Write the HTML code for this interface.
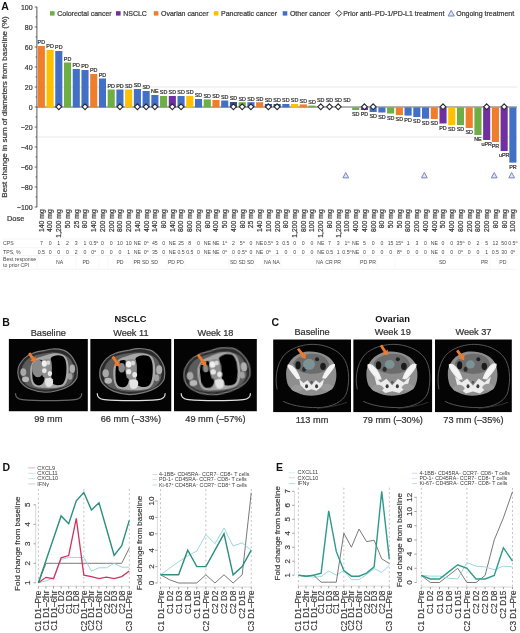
<!DOCTYPE html>
<html><head><meta charset="utf-8"><title>Figure</title>
<style>html,body{margin:0;padding:0;background:#fff;} svg{display:block;} text{font-family:"Liberation Sans",Arial,sans-serif;}</style>
</head><body>
<svg width="520" height="633" viewBox="0 0 520 633">
<defs><filter id="bl" x="-20%" y="-20%" width="140%" height="140%"><feGaussianBlur stdDeviation="0.7"/></filter><clipPath id="cl0"><rect x="8.65" y="339.0" width="79.25" height="72.45"/></clipPath><clipPath id="cl1"><rect x="90.2" y="339.0" width="81.3" height="72.45"/></clipPath><clipPath id="cl2"><rect x="174.0" y="339.0" width="82.9" height="72.45"/></clipPath><clipPath id="cl3"><rect x="273.1" y="339.35" width="77.9" height="73.0"/></clipPath><clipPath id="cl4"><rect x="353.2" y="339.35" width="79.1" height="73.0"/></clipPath><clipPath id="cl5"><rect x="435.0" y="339.35" width="76.9" height="73.0"/></clipPath></defs>
<rect width="520" height="633" fill="#fff"/>
<text x="1.20" y="9.60" font-size="10.5" font-weight="bold" fill="#111">A</text>
<text x="7.40" y="107.00" font-size="8" text-anchor="middle" fill="#3a3a3a" stroke="#3a3a3a" stroke-width="0.22" transform="rotate(-90 7.4 107)">Best change in sum of diameters from baseline (%)</text>
<line x1="38" y1="87" x2="517" y2="87" stroke="#e2e2e2" stroke-width="0.8"/>
<line x1="38" y1="137" x2="517" y2="137" stroke="#e2e2e2" stroke-width="0.8"/>
<line x1="36.9" y1="6.8" x2="36.9" y2="207.3" stroke="#444" stroke-width="0.9"/>
<line x1="34.70" y1="207.0" x2="36.9" y2="207.0" stroke="#444" stroke-width="0.8"/>
<text x="32.60" y="209.50" font-size="7" text-anchor="end" fill="#3a3a3a" stroke="#3a3a3a" stroke-width="0.22">&#8722;100</text>
<line x1="35.50" y1="197.0" x2="36.9" y2="197.0" stroke="#444" stroke-width="0.8"/>
<line x1="34.70" y1="187.0" x2="36.9" y2="187.0" stroke="#444" stroke-width="0.8"/>
<text x="32.60" y="189.50" font-size="7" text-anchor="end" fill="#3a3a3a" stroke="#3a3a3a" stroke-width="0.22">&#8722;80</text>
<line x1="35.50" y1="177.0" x2="36.9" y2="177.0" stroke="#444" stroke-width="0.8"/>
<line x1="34.70" y1="167.0" x2="36.9" y2="167.0" stroke="#444" stroke-width="0.8"/>
<text x="32.60" y="169.50" font-size="7" text-anchor="end" fill="#3a3a3a" stroke="#3a3a3a" stroke-width="0.22">&#8722;60</text>
<line x1="35.50" y1="157.0" x2="36.9" y2="157.0" stroke="#444" stroke-width="0.8"/>
<line x1="34.70" y1="147.0" x2="36.9" y2="147.0" stroke="#444" stroke-width="0.8"/>
<text x="32.60" y="149.50" font-size="7" text-anchor="end" fill="#3a3a3a" stroke="#3a3a3a" stroke-width="0.22">&#8722;40</text>
<line x1="35.50" y1="137.0" x2="36.9" y2="137.0" stroke="#444" stroke-width="0.8"/>
<line x1="34.70" y1="127.0" x2="36.9" y2="127.0" stroke="#444" stroke-width="0.8"/>
<text x="32.60" y="129.50" font-size="7" text-anchor="end" fill="#3a3a3a" stroke="#3a3a3a" stroke-width="0.22">&#8722;20</text>
<line x1="35.50" y1="117.0" x2="36.9" y2="117.0" stroke="#444" stroke-width="0.8"/>
<line x1="34.70" y1="107.0" x2="36.9" y2="107.0" stroke="#444" stroke-width="0.8"/>
<text x="32.60" y="109.50" font-size="7" text-anchor="end" fill="#3a3a3a" stroke="#3a3a3a" stroke-width="0.22">0</text>
<line x1="35.50" y1="97.0" x2="36.9" y2="97.0" stroke="#444" stroke-width="0.8"/>
<line x1="34.70" y1="87.0" x2="36.9" y2="87.0" stroke="#444" stroke-width="0.8"/>
<text x="32.60" y="89.50" font-size="7" text-anchor="end" fill="#3a3a3a" stroke="#3a3a3a" stroke-width="0.22">20</text>
<line x1="35.50" y1="77.0" x2="36.9" y2="77.0" stroke="#444" stroke-width="0.8"/>
<line x1="34.70" y1="67.0" x2="36.9" y2="67.0" stroke="#444" stroke-width="0.8"/>
<text x="32.60" y="69.50" font-size="7" text-anchor="end" fill="#3a3a3a" stroke="#3a3a3a" stroke-width="0.22">40</text>
<line x1="35.50" y1="57.0" x2="36.9" y2="57.0" stroke="#444" stroke-width="0.8"/>
<line x1="34.70" y1="47.0" x2="36.9" y2="47.0" stroke="#444" stroke-width="0.8"/>
<text x="32.60" y="49.50" font-size="7" text-anchor="end" fill="#3a3a3a" stroke="#3a3a3a" stroke-width="0.22">60</text>
<line x1="35.50" y1="37.0" x2="36.9" y2="37.0" stroke="#444" stroke-width="0.8"/>
<line x1="34.70" y1="27.0" x2="36.9" y2="27.0" stroke="#444" stroke-width="0.8"/>
<text x="32.60" y="29.50" font-size="7" text-anchor="end" fill="#3a3a3a" stroke="#3a3a3a" stroke-width="0.22">80</text>
<line x1="35.50" y1="17.0" x2="36.9" y2="17.0" stroke="#444" stroke-width="0.8"/>
<line x1="34.70" y1="7.0" x2="36.9" y2="7.0" stroke="#444" stroke-width="0.8"/>
<text x="32.60" y="9.50" font-size="7" text-anchor="end" fill="#3a3a3a" stroke="#3a3a3a" stroke-width="0.22">100</text>
<line x1="36.9" y1="107.0" x2="517" y2="107.0" stroke="#555" stroke-width="0.9"/>
<rect x="37.80" y="46.00" width="7.1" height="61.50" fill="#F07D2A"/>
<rect x="46.53" y="50.00" width="7.1" height="57.50" fill="#FFC000"/>
<rect x="55.26" y="51.00" width="7.1" height="56.50" fill="#4270C4"/>
<rect x="64.00" y="62.50" width="7.1" height="45.00" fill="#6FAD45"/>
<rect x="72.73" y="69.00" width="7.1" height="38.50" fill="#4270C4"/>
<rect x="81.46" y="70.00" width="7.1" height="37.50" fill="#4270C4"/>
<rect x="90.19" y="74.00" width="7.1" height="33.50" fill="#F07D2A"/>
<rect x="98.92" y="78.50" width="7.1" height="29.00" fill="#4270C4"/>
<rect x="107.66" y="89.50" width="7.1" height="18.00" fill="#6FAD45"/>
<rect x="116.39" y="89.50" width="7.1" height="18.00" fill="#4270C4"/>
<rect x="125.12" y="89.50" width="7.1" height="18.00" fill="#FFC000"/>
<rect x="133.85" y="89.00" width="7.1" height="18.50" fill="#4270C4"/>
<rect x="142.58" y="91.00" width="7.1" height="16.50" fill="#4270C4"/>
<rect x="151.32" y="95.00" width="7.1" height="12.50" fill="#4270C4"/>
<rect x="160.05" y="96.00" width="7.1" height="11.50" fill="#6FAD45"/>
<rect x="168.78" y="96.00" width="7.1" height="11.50" fill="#7030A0"/>
<rect x="177.51" y="96.00" width="7.1" height="11.50" fill="#4270C4"/>
<rect x="186.24" y="96.00" width="7.1" height="11.50" fill="#FFC000"/>
<rect x="194.98" y="99.00" width="7.1" height="8.50" fill="#4270C4"/>
<rect x="203.71" y="99.40" width="7.1" height="8.10" fill="#6FAD45"/>
<rect x="212.44" y="100.00" width="7.1" height="7.50" fill="#F07D2A"/>
<rect x="221.17" y="100.50" width="7.1" height="7.00" fill="#4270C4"/>
<rect x="229.90" y="102.00" width="7.1" height="5.50" fill="#34508f"/>
<rect x="238.64" y="102.20" width="7.1" height="5.30" fill="#6FAD45"/>
<rect x="247.37" y="102.20" width="7.1" height="5.30" fill="#4270C4"/>
<rect x="256.10" y="102.20" width="7.1" height="5.30" fill="#F07D2A"/>
<rect x="264.83" y="104.00" width="7.1" height="3.50" fill="#34508f"/>
<rect x="273.56" y="104.00" width="7.1" height="3.50" fill="#34508f"/>
<rect x="282.30" y="104.00" width="7.1" height="3.50" fill="#4270C4"/>
<rect x="291.03" y="104.00" width="7.1" height="3.50" fill="#FFC000"/>
<rect x="299.76" y="104.40" width="7.1" height="3.10" fill="#F07D2A"/>
<rect x="308.49" y="105.60" width="7.1" height="1.90" fill="#6FAD45"/>
<rect x="352.15" y="107.40" width="7.1" height="2.60" fill="#6FAD45"/>
<rect x="360.88" y="107.40" width="7.1" height="2.60" fill="#7030A0"/>
<rect x="369.62" y="107.40" width="7.1" height="4.60" fill="#4270C4"/>
<rect x="378.35" y="107.40" width="7.1" height="5.10" fill="#4270C4"/>
<rect x="387.08" y="107.40" width="7.1" height="6.10" fill="#6FAD45"/>
<rect x="395.81" y="107.40" width="7.1" height="7.60" fill="#F07D2A"/>
<rect x="404.54" y="107.40" width="7.1" height="8.20" fill="#4270C4"/>
<rect x="413.28" y="107.40" width="7.1" height="9.60" fill="#4270C4"/>
<rect x="422.01" y="107.40" width="7.1" height="11.30" fill="#4270C4"/>
<rect x="430.74" y="107.40" width="7.1" height="11.60" fill="#F07D2A"/>
<rect x="439.47" y="107.40" width="7.1" height="16.10" fill="#7030A0"/>
<rect x="448.20" y="107.40" width="7.1" height="17.60" fill="#FFC000"/>
<rect x="456.94" y="107.40" width="7.1" height="17.60" fill="#6FAD45"/>
<rect x="465.67" y="107.40" width="7.1" height="20.60" fill="#F07D2A"/>
<rect x="474.40" y="107.40" width="7.1" height="27.60" fill="#6FAD45"/>
<rect x="483.13" y="107.40" width="7.1" height="32.60" fill="#7030A0"/>
<rect x="491.86" y="107.40" width="7.1" height="34.60" fill="#F07D2A"/>
<rect x="500.60" y="107.40" width="7.1" height="43.60" fill="#7030A0"/>
<rect x="509.33" y="107.40" width="7.1" height="55.20" fill="#4270C4"/>
<path d="M58.81 103.90 L61.71 106.80 L58.81 109.70 L55.91 106.80 Z" fill="#fff" stroke="#2a2a35" stroke-width="1.1"/>
<path d="M85.01 103.90 L87.91 106.80 L85.01 109.70 L82.11 106.80 Z" fill="#fff" stroke="#2a2a35" stroke-width="1.1"/>
<path d="M119.94 103.90 L122.84 106.80 L119.94 109.70 L117.04 106.80 Z" fill="#fff" stroke="#2a2a35" stroke-width="1.1"/>
<path d="M137.40 103.90 L140.30 106.80 L137.40 109.70 L134.50 106.80 Z" fill="#fff" stroke="#2a2a35" stroke-width="1.1"/>
<path d="M146.13 103.90 L149.03 106.80 L146.13 109.70 L143.23 106.80 Z" fill="#fff" stroke="#2a2a35" stroke-width="1.1"/>
<path d="M154.87 103.90 L157.77 106.80 L154.87 109.70 L151.97 106.80 Z" fill="#fff" stroke="#2a2a35" stroke-width="1.1"/>
<path d="M172.33 103.90 L175.23 106.80 L172.33 109.70 L169.43 106.80 Z" fill="#fff" stroke="#2a2a35" stroke-width="1.1"/>
<path d="M181.06 103.90 L183.96 106.80 L181.06 109.70 L178.16 106.80 Z" fill="#fff" stroke="#2a2a35" stroke-width="1.1"/>
<path d="M233.45 103.90 L236.35 106.80 L233.45 109.70 L230.55 106.80 Z" fill="#fff" stroke="#2a2a35" stroke-width="1.1"/>
<path d="M242.19 103.90 L245.09 106.80 L242.19 109.70 L239.29 106.80 Z" fill="#fff" stroke="#2a2a35" stroke-width="1.1"/>
<path d="M250.92 103.90 L253.82 106.80 L250.92 109.70 L248.02 106.80 Z" fill="#fff" stroke="#2a2a35" stroke-width="1.1"/>
<path d="M268.38 103.90 L271.28 106.80 L268.38 109.70 L265.48 106.80 Z" fill="#fff" stroke="#2a2a35" stroke-width="1.1"/>
<path d="M277.11 103.90 L280.01 106.80 L277.11 109.70 L274.21 106.80 Z" fill="#fff" stroke="#2a2a35" stroke-width="1.1"/>
<path d="M320.77 103.90 L323.67 106.80 L320.77 109.70 L317.87 106.80 Z" fill="#fff" stroke="#2a2a35" stroke-width="1.1"/>
<path d="M329.51 103.90 L332.41 106.80 L329.51 109.70 L326.61 106.80 Z" fill="#fff" stroke="#2a2a35" stroke-width="1.1"/>
<path d="M338.24 103.90 L341.14 106.80 L338.24 109.70 L335.34 106.80 Z" fill="#fff" stroke="#2a2a35" stroke-width="1.1"/>
<path d="M345.77 172.50 L348.67 177.90 L342.87 177.90 Z" fill="#e2e4f4" stroke="#7b86c6" stroke-width="1.0"/>
<path d="M364.43 103.90 L367.33 106.80 L364.43 109.70 L361.53 106.80 Z" fill="#fff" stroke="#2a2a35" stroke-width="1.1"/>
<path d="M373.17 103.90 L376.07 106.80 L373.17 109.70 L370.27 106.80 Z" fill="#fff" stroke="#2a2a35" stroke-width="1.1"/>
<path d="M424.36 172.50 L427.26 177.90 L421.46 177.90 Z" fill="#e2e4f4" stroke="#7b86c6" stroke-width="1.0"/>
<path d="M443.02 103.90 L445.92 106.80 L443.02 109.70 L440.12 106.80 Z" fill="#fff" stroke="#2a2a35" stroke-width="1.1"/>
<path d="M486.68 103.90 L489.58 106.80 L486.68 109.70 L483.78 106.80 Z" fill="#fff" stroke="#2a2a35" stroke-width="1.1"/>
<path d="M494.21 172.50 L497.11 177.90 L491.31 177.90 Z" fill="#e2e4f4" stroke="#7b86c6" stroke-width="1.0"/>
<path d="M504.15 103.90 L507.05 106.80 L504.15 109.70 L501.25 106.80 Z" fill="#fff" stroke="#2a2a35" stroke-width="1.1"/>
<path d="M511.68 172.50 L514.58 177.90 L508.78 177.90 Z" fill="#e2e4f4" stroke="#7b86c6" stroke-width="1.0"/>
<text x="41.35" y="44.30" font-size="5.4" text-anchor="middle" fill="#333" stroke="#333" stroke-width="0.22">PD</text>
<text x="50.08" y="48.30" font-size="5.4" text-anchor="middle" fill="#333" stroke="#333" stroke-width="0.22">PD</text>
<text x="58.81" y="49.30" font-size="5.4" text-anchor="middle" fill="#333" stroke="#333" stroke-width="0.22">PD</text>
<text x="67.55" y="60.80" font-size="5.4" text-anchor="middle" fill="#333" stroke="#333" stroke-width="0.22">PD</text>
<text x="76.28" y="67.30" font-size="5.4" text-anchor="middle" fill="#333" stroke="#333" stroke-width="0.22">PD</text>
<text x="85.01" y="68.30" font-size="5.4" text-anchor="middle" fill="#333" stroke="#333" stroke-width="0.22">PD</text>
<text x="93.74" y="72.30" font-size="5.4" text-anchor="middle" fill="#333" stroke="#333" stroke-width="0.22">PD</text>
<text x="102.47" y="76.80" font-size="5.4" text-anchor="middle" fill="#333" stroke="#333" stroke-width="0.22">PD</text>
<text x="111.21" y="87.80" font-size="5.4" text-anchor="middle" fill="#333" stroke="#333" stroke-width="0.22">PD</text>
<text x="119.94" y="87.80" font-size="5.4" text-anchor="middle" fill="#333" stroke="#333" stroke-width="0.22">PD</text>
<text x="128.67" y="87.80" font-size="5.4" text-anchor="middle" fill="#333" stroke="#333" stroke-width="0.22">SD</text>
<text x="137.40" y="87.30" font-size="5.4" text-anchor="middle" fill="#333" stroke="#333" stroke-width="0.22">SD</text>
<text x="146.13" y="89.30" font-size="5.4" text-anchor="middle" fill="#333" stroke="#333" stroke-width="0.22">SD</text>
<text x="154.87" y="93.30" font-size="5.4" text-anchor="middle" fill="#333" stroke="#333" stroke-width="0.22">NE</text>
<text x="163.60" y="94.30" font-size="5.4" text-anchor="middle" fill="#333" stroke="#333" stroke-width="0.22">SD</text>
<text x="172.33" y="94.30" font-size="5.4" text-anchor="middle" fill="#333" stroke="#333" stroke-width="0.22">SD</text>
<text x="181.06" y="94.30" font-size="5.4" text-anchor="middle" fill="#333" stroke="#333" stroke-width="0.22">SD</text>
<text x="189.79" y="94.30" font-size="5.4" text-anchor="middle" fill="#333" stroke="#333" stroke-width="0.22">SD</text>
<text x="198.53" y="97.30" font-size="5.4" text-anchor="middle" fill="#333" stroke="#333" stroke-width="0.22">SD</text>
<text x="207.26" y="97.70" font-size="5.4" text-anchor="middle" fill="#333" stroke="#333" stroke-width="0.22">SD</text>
<text x="215.99" y="98.30" font-size="5.4" text-anchor="middle" fill="#333" stroke="#333" stroke-width="0.22">SD</text>
<text x="224.72" y="98.80" font-size="5.4" text-anchor="middle" fill="#333" stroke="#333" stroke-width="0.22">SD</text>
<text x="233.45" y="100.30" font-size="5.4" text-anchor="middle" fill="#333" stroke="#333" stroke-width="0.22">SD</text>
<text x="242.19" y="100.50" font-size="5.4" text-anchor="middle" fill="#333" stroke="#333" stroke-width="0.22">SD</text>
<text x="250.92" y="100.50" font-size="5.4" text-anchor="middle" fill="#333" stroke="#333" stroke-width="0.22">SD</text>
<text x="259.65" y="100.50" font-size="5.4" text-anchor="middle" fill="#333" stroke="#333" stroke-width="0.22">SD</text>
<text x="268.38" y="102.00" font-size="5.4" text-anchor="middle" fill="#333" stroke="#333" stroke-width="0.22">SD</text>
<text x="277.11" y="102.00" font-size="5.4" text-anchor="middle" fill="#333" stroke="#333" stroke-width="0.22">SD</text>
<text x="285.85" y="102.30" font-size="5.4" text-anchor="middle" fill="#333" stroke="#333" stroke-width="0.22">SD</text>
<text x="294.58" y="102.30" font-size="5.4" text-anchor="middle" fill="#333" stroke="#333" stroke-width="0.22">SD</text>
<text x="303.31" y="102.70" font-size="5.4" text-anchor="middle" fill="#333" stroke="#333" stroke-width="0.22">SD</text>
<text x="312.04" y="103.90" font-size="5.4" text-anchor="middle" fill="#333" stroke="#333" stroke-width="0.22">SD</text>
<text x="320.77" y="102.00" font-size="5.4" text-anchor="middle" fill="#333" stroke="#333" stroke-width="0.22">SD</text>
<text x="329.51" y="102.00" font-size="5.4" text-anchor="middle" fill="#333" stroke="#333" stroke-width="0.22">SD</text>
<text x="338.24" y="102.00" font-size="5.4" text-anchor="middle" fill="#333" stroke="#333" stroke-width="0.22">SD</text>
<text x="346.97" y="102.00" font-size="5.4" text-anchor="middle" fill="#333" stroke="#333" stroke-width="0.22">SD</text>
<text x="355.70" y="116.00" font-size="5.4" text-anchor="middle" fill="#333" stroke="#333" stroke-width="0.22">SD</text>
<text x="364.43" y="116.00" font-size="5.4" text-anchor="middle" fill="#333" stroke="#333" stroke-width="0.22">PD</text>
<text x="373.17" y="118.00" font-size="5.4" text-anchor="middle" fill="#333" stroke="#333" stroke-width="0.22">SD</text>
<text x="381.90" y="118.50" font-size="5.4" text-anchor="middle" fill="#333" stroke="#333" stroke-width="0.22">SD</text>
<text x="390.63" y="119.50" font-size="5.4" text-anchor="middle" fill="#333" stroke="#333" stroke-width="0.22">SD</text>
<text x="399.36" y="121.00" font-size="5.4" text-anchor="middle" fill="#333" stroke="#333" stroke-width="0.22">SD</text>
<text x="408.09" y="121.60" font-size="5.4" text-anchor="middle" fill="#333" stroke="#333" stroke-width="0.22">PD</text>
<text x="416.83" y="123.00" font-size="5.4" text-anchor="middle" fill="#333" stroke="#333" stroke-width="0.22">SD</text>
<text x="425.56" y="124.70" font-size="5.4" text-anchor="middle" fill="#333" stroke="#333" stroke-width="0.22">SD</text>
<text x="434.29" y="125.00" font-size="5.4" text-anchor="middle" fill="#333" stroke="#333" stroke-width="0.22">SD</text>
<text x="443.02" y="129.50" font-size="5.4" text-anchor="middle" fill="#333" stroke="#333" stroke-width="0.22">PD</text>
<text x="451.75" y="131.00" font-size="5.4" text-anchor="middle" fill="#333" stroke="#333" stroke-width="0.22">SD</text>
<text x="460.49" y="131.00" font-size="5.4" text-anchor="middle" fill="#333" stroke="#333" stroke-width="0.22">SD</text>
<text x="469.22" y="134.00" font-size="5.4" text-anchor="middle" fill="#333" stroke="#333" stroke-width="0.22">SD</text>
<text x="477.95" y="141.00" font-size="5.4" text-anchor="middle" fill="#333" stroke="#333" stroke-width="0.22">NE</text>
<text x="486.68" y="146.00" font-size="5.4" text-anchor="middle" fill="#333" stroke="#333" stroke-width="0.22">uPR</text>
<text x="495.41" y="148.00" font-size="5.4" text-anchor="middle" fill="#333" stroke="#333" stroke-width="0.22">PR</text>
<text x="504.15" y="157.00" font-size="5.4" text-anchor="middle" fill="#333" stroke="#333" stroke-width="0.22">uPR</text>
<text x="512.88" y="168.60" font-size="5.4" text-anchor="middle" fill="#333" stroke="#333" stroke-width="0.22">PR</text>
<rect x="50" y="11.2" width="4.6" height="4.4" fill="#6FAD45"/>
<text x="57.20" y="15.60" font-size="7" fill="#3a3a3a" stroke="#3a3a3a" stroke-width="0.22">Colorectal cancer</text>
<rect x="116" y="11.2" width="4.6" height="4.4" fill="#7030A0"/>
<text x="123.20" y="15.60" font-size="7" fill="#3a3a3a" stroke="#3a3a3a" stroke-width="0.22">NSCLC</text>
<rect x="153.8" y="11.2" width="4.6" height="4.4" fill="#F07D2A"/>
<text x="161.00" y="15.60" font-size="7" fill="#3a3a3a" stroke="#3a3a3a" stroke-width="0.22">Ovarian cancer</text>
<rect x="213.8" y="11.2" width="4.6" height="4.4" fill="#FFC000"/>
<text x="221.00" y="15.60" font-size="7" fill="#3a3a3a" stroke="#3a3a3a" stroke-width="0.22">Pancreatic cancer</text>
<rect x="282.7" y="11.2" width="4.6" height="4.4" fill="#4270C4"/>
<text x="289.90" y="15.60" font-size="7" fill="#3a3a3a" stroke="#3a3a3a" stroke-width="0.22">Other cancer</text>
<path d="M338.8 10.4 L341.8 13.4 L338.8 16.4 L335.8 13.4 Z" fill="#fff" stroke="#333" stroke-width="1.0"/>
<text x="343.20" y="15.60" font-size="7" fill="#3a3a3a" stroke="#3a3a3a" stroke-width="0.22">Prior anti&#8211;PD-1/PD-L1 treatment</text>
<path d="M451.2 10.4 L454.3 16.0 L448.09999999999997 16.0 Z" fill="#e2e4f4" stroke="#7484cc" stroke-width="1.0"/>
<text x="456.20" y="15.60" font-size="7" fill="#3a3a3a" stroke="#3a3a3a" stroke-width="0.22">Ongoing treatment</text>
<text x="6.90" y="220.60" font-size="7.5" fill="#3a3a3a" stroke="#3a3a3a" stroke-width="0.22">Dose</text>
<text x="43.75" y="209.30" font-size="6.8" text-anchor="end" fill="#3a3a3a" stroke="#3a3a3a" stroke-width="0.22" transform="rotate(-90 43.75 209.3)">140 mg</text>
<text x="52.48" y="209.30" font-size="6.8" text-anchor="end" fill="#3a3a3a" stroke="#3a3a3a" stroke-width="0.22" transform="rotate(-90 52.482 209.3)">400 mg</text>
<text x="61.21" y="209.30" font-size="6.8" text-anchor="end" fill="#3a3a3a" stroke="#3a3a3a" stroke-width="0.22" transform="rotate(-90 61.214 209.3)">1,200 mg</text>
<text x="69.95" y="209.30" font-size="6.8" text-anchor="end" fill="#3a3a3a" stroke="#3a3a3a" stroke-width="0.22" transform="rotate(-90 69.946 209.3)">50 mg</text>
<text x="78.68" y="209.30" font-size="6.8" text-anchor="end" fill="#3a3a3a" stroke="#3a3a3a" stroke-width="0.22" transform="rotate(-90 78.678 209.3)">25 mg</text>
<text x="87.41" y="209.30" font-size="6.8" text-anchor="end" fill="#3a3a3a" stroke="#3a3a3a" stroke-width="0.22" transform="rotate(-90 87.41 209.3)">80 mg</text>
<text x="96.14" y="209.30" font-size="6.8" text-anchor="end" fill="#3a3a3a" stroke="#3a3a3a" stroke-width="0.22" transform="rotate(-90 96.142 209.3)">140 mg</text>
<text x="104.87" y="209.30" font-size="6.8" text-anchor="end" fill="#3a3a3a" stroke="#3a3a3a" stroke-width="0.22" transform="rotate(-90 104.874 209.3)">200 mg</text>
<text x="113.61" y="209.30" font-size="6.8" text-anchor="end" fill="#3a3a3a" stroke="#3a3a3a" stroke-width="0.22" transform="rotate(-90 113.606 209.3)">200 mg</text>
<text x="122.34" y="209.30" font-size="6.8" text-anchor="end" fill="#3a3a3a" stroke="#3a3a3a" stroke-width="0.22" transform="rotate(-90 122.338 209.3)">800 mg</text>
<text x="131.07" y="209.30" font-size="6.8" text-anchor="end" fill="#3a3a3a" stroke="#3a3a3a" stroke-width="0.22" transform="rotate(-90 131.07 209.3)">200 mg</text>
<text x="139.80" y="209.30" font-size="6.8" text-anchor="end" fill="#3a3a3a" stroke="#3a3a3a" stroke-width="0.22" transform="rotate(-90 139.802 209.3)">140 mg</text>
<text x="148.53" y="209.30" font-size="6.8" text-anchor="end" fill="#3a3a3a" stroke="#3a3a3a" stroke-width="0.22" transform="rotate(-90 148.534 209.3)">400 mg</text>
<text x="157.27" y="209.30" font-size="6.8" text-anchor="end" fill="#3a3a3a" stroke="#3a3a3a" stroke-width="0.22" transform="rotate(-90 157.266 209.3)">140 mg</text>
<text x="166.00" y="209.30" font-size="6.8" text-anchor="end" fill="#3a3a3a" stroke="#3a3a3a" stroke-width="0.22" transform="rotate(-90 165.998 209.3)">80 mg</text>
<text x="174.73" y="209.30" font-size="6.8" text-anchor="end" fill="#3a3a3a" stroke="#3a3a3a" stroke-width="0.22" transform="rotate(-90 174.73 209.3)">140 mg</text>
<text x="183.46" y="209.30" font-size="6.8" text-anchor="end" fill="#3a3a3a" stroke="#3a3a3a" stroke-width="0.22" transform="rotate(-90 183.462 209.3)">800 mg</text>
<text x="192.19" y="209.30" font-size="6.8" text-anchor="end" fill="#3a3a3a" stroke="#3a3a3a" stroke-width="0.22" transform="rotate(-90 192.194 209.3)">800 mg</text>
<text x="200.93" y="209.30" font-size="6.8" text-anchor="end" fill="#3a3a3a" stroke="#3a3a3a" stroke-width="0.22" transform="rotate(-90 200.926 209.3)">200 mg</text>
<text x="209.66" y="209.30" font-size="6.8" text-anchor="end" fill="#3a3a3a" stroke="#3a3a3a" stroke-width="0.22" transform="rotate(-90 209.658 209.3)">80 mg</text>
<text x="218.39" y="209.30" font-size="6.8" text-anchor="end" fill="#3a3a3a" stroke="#3a3a3a" stroke-width="0.22" transform="rotate(-90 218.39 209.3)">400 mg</text>
<text x="227.12" y="209.30" font-size="6.8" text-anchor="end" fill="#3a3a3a" stroke="#3a3a3a" stroke-width="0.22" transform="rotate(-90 227.12199999999999 209.3)">50 mg</text>
<text x="235.85" y="209.30" font-size="6.8" text-anchor="end" fill="#3a3a3a" stroke="#3a3a3a" stroke-width="0.22" transform="rotate(-90 235.85399999999998 209.3)">400 mg</text>
<text x="244.59" y="209.30" font-size="6.8" text-anchor="end" fill="#3a3a3a" stroke="#3a3a3a" stroke-width="0.22" transform="rotate(-90 244.58599999999998 209.3)">80 mg</text>
<text x="253.32" y="209.30" font-size="6.8" text-anchor="end" fill="#3a3a3a" stroke="#3a3a3a" stroke-width="0.22" transform="rotate(-90 253.31799999999998 209.3)">25 mg</text>
<text x="262.05" y="209.30" font-size="6.8" text-anchor="end" fill="#3a3a3a" stroke="#3a3a3a" stroke-width="0.22" transform="rotate(-90 262.04999999999995 209.3)">140 mg</text>
<text x="270.78" y="209.30" font-size="6.8" text-anchor="end" fill="#3a3a3a" stroke="#3a3a3a" stroke-width="0.22" transform="rotate(-90 270.782 209.3)">100 mg</text>
<text x="279.51" y="209.30" font-size="6.8" text-anchor="end" fill="#3a3a3a" stroke="#3a3a3a" stroke-width="0.22" transform="rotate(-90 279.51399999999995 209.3)">200 mg</text>
<text x="288.25" y="209.30" font-size="6.8" text-anchor="end" fill="#3a3a3a" stroke="#3a3a3a" stroke-width="0.22" transform="rotate(-90 288.246 209.3)">80 mg</text>
<text x="296.98" y="209.30" font-size="6.8" text-anchor="end" fill="#3a3a3a" stroke="#3a3a3a" stroke-width="0.22" transform="rotate(-90 296.97799999999995 209.3)">1,200 mg</text>
<text x="305.71" y="209.30" font-size="6.8" text-anchor="end" fill="#3a3a3a" stroke="#3a3a3a" stroke-width="0.22" transform="rotate(-90 305.71 209.3)">800 mg</text>
<text x="314.44" y="209.30" font-size="6.8" text-anchor="end" fill="#3a3a3a" stroke="#3a3a3a" stroke-width="0.22" transform="rotate(-90 314.442 209.3)">100 mg</text>
<text x="323.17" y="209.30" font-size="6.8" text-anchor="end" fill="#3a3a3a" stroke="#3a3a3a" stroke-width="0.22" transform="rotate(-90 323.174 209.3)">1,200 mg</text>
<text x="331.91" y="209.30" font-size="6.8" text-anchor="end" fill="#3a3a3a" stroke="#3a3a3a" stroke-width="0.22" transform="rotate(-90 331.90599999999995 209.3)">80 mg</text>
<text x="340.64" y="209.30" font-size="6.8" text-anchor="end" fill="#3a3a3a" stroke="#3a3a3a" stroke-width="0.22" transform="rotate(-90 340.638 209.3)">1,200 mg</text>
<text x="349.37" y="209.30" font-size="6.8" text-anchor="end" fill="#3a3a3a" stroke="#3a3a3a" stroke-width="0.22" transform="rotate(-90 349.37 209.3)">100 mg</text>
<text x="358.10" y="209.30" font-size="6.8" text-anchor="end" fill="#3a3a3a" stroke="#3a3a3a" stroke-width="0.22" transform="rotate(-90 358.102 209.3)">400 mg</text>
<text x="366.83" y="209.30" font-size="6.8" text-anchor="end" fill="#3a3a3a" stroke="#3a3a3a" stroke-width="0.22" transform="rotate(-90 366.83399999999995 209.3)">400 mg</text>
<text x="375.57" y="209.30" font-size="6.8" text-anchor="end" fill="#3a3a3a" stroke="#3a3a3a" stroke-width="0.22" transform="rotate(-90 375.566 209.3)">800 mg</text>
<text x="384.30" y="209.30" font-size="6.8" text-anchor="end" fill="#3a3a3a" stroke="#3a3a3a" stroke-width="0.22" transform="rotate(-90 384.298 209.3)">80 mg</text>
<text x="393.03" y="209.30" font-size="6.8" text-anchor="end" fill="#3a3a3a" stroke="#3a3a3a" stroke-width="0.22" transform="rotate(-90 393.03 209.3)">50 mg</text>
<text x="401.76" y="209.30" font-size="6.8" text-anchor="end" fill="#3a3a3a" stroke="#3a3a3a" stroke-width="0.22" transform="rotate(-90 401.76199999999994 209.3)">50 mg</text>
<text x="410.49" y="209.30" font-size="6.8" text-anchor="end" fill="#3a3a3a" stroke="#3a3a3a" stroke-width="0.22" transform="rotate(-90 410.49399999999997 209.3)">800 mg</text>
<text x="419.23" y="209.30" font-size="6.8" text-anchor="end" fill="#3a3a3a" stroke="#3a3a3a" stroke-width="0.22" transform="rotate(-90 419.226 209.3)">200 mg</text>
<text x="427.96" y="209.30" font-size="6.8" text-anchor="end" fill="#3a3a3a" stroke="#3a3a3a" stroke-width="0.22" transform="rotate(-90 427.95799999999997 209.3)">400 mg</text>
<text x="436.69" y="209.30" font-size="6.8" text-anchor="end" fill="#3a3a3a" stroke="#3a3a3a" stroke-width="0.22" transform="rotate(-90 436.68999999999994 209.3)">400 mg</text>
<text x="445.42" y="209.30" font-size="6.8" text-anchor="end" fill="#3a3a3a" stroke="#3a3a3a" stroke-width="0.22" transform="rotate(-90 445.42199999999997 209.3)">50 mg</text>
<text x="454.15" y="209.30" font-size="6.8" text-anchor="end" fill="#3a3a3a" stroke="#3a3a3a" stroke-width="0.22" transform="rotate(-90 454.154 209.3)">400 mg</text>
<text x="462.89" y="209.30" font-size="6.8" text-anchor="end" fill="#3a3a3a" stroke="#3a3a3a" stroke-width="0.22" transform="rotate(-90 462.88599999999997 209.3)">800 mg</text>
<text x="471.62" y="209.30" font-size="6.8" text-anchor="end" fill="#3a3a3a" stroke="#3a3a3a" stroke-width="0.22" transform="rotate(-90 471.61799999999994 209.3)">200 mg</text>
<text x="480.35" y="209.30" font-size="6.8" text-anchor="end" fill="#3a3a3a" stroke="#3a3a3a" stroke-width="0.22" transform="rotate(-90 480.34999999999997 209.3)">800 mg</text>
<text x="489.08" y="209.30" font-size="6.8" text-anchor="end" fill="#3a3a3a" stroke="#3a3a3a" stroke-width="0.22" transform="rotate(-90 489.082 209.3)">200 mg</text>
<text x="497.81" y="209.30" font-size="6.8" text-anchor="end" fill="#3a3a3a" stroke="#3a3a3a" stroke-width="0.22" transform="rotate(-90 497.81399999999996 209.3)">80 mg</text>
<text x="506.55" y="209.30" font-size="6.8" text-anchor="end" fill="#3a3a3a" stroke="#3a3a3a" stroke-width="0.22" transform="rotate(-90 506.54599999999994 209.3)">80 mg</text>
<text x="515.28" y="209.30" font-size="6.8" text-anchor="end" fill="#3a3a3a" stroke="#3a3a3a" stroke-width="0.22" transform="rotate(-90 515.2779999999999 209.3)">100 mg</text>
<line x1="2" y1="239" x2="518" y2="239" stroke="#efefef" stroke-width="0.6"/>
<line x1="2" y1="247.7" x2="518" y2="247.7" stroke="#efefef" stroke-width="0.6"/>
<line x1="2" y1="255.5" x2="518" y2="255.5" stroke="#efefef" stroke-width="0.6"/>
<line x1="2" y1="269.3" x2="518" y2="269.3" stroke="#efefef" stroke-width="0.6"/>
<text x="3.00" y="245.10" font-size="5.2" fill="#4a4a4a">CPS</text>
<text x="3.00" y="253.70" font-size="5.2" fill="#4a4a4a">TPS, %</text>
<text x="3.00" y="260.70" font-size="5.2" fill="#4a4a4a">Best response</text>
<text x="3.00" y="266.70" font-size="5.2" fill="#4a4a4a">to prior CPI</text>
<text x="41.35" y="245.10" font-size="5.2" text-anchor="middle" fill="#4a4a4a">7</text>
<text x="41.35" y="253.70" font-size="5.2" text-anchor="middle" fill="#4a4a4a">0.5</text>
<text x="50.08" y="245.10" font-size="5.2" text-anchor="middle" fill="#4a4a4a">0</text>
<text x="50.08" y="253.70" font-size="5.2" text-anchor="middle" fill="#4a4a4a">0</text>
<text x="58.81" y="245.10" font-size="5.2" text-anchor="middle" fill="#4a4a4a">1</text>
<text x="58.81" y="253.70" font-size="5.2" text-anchor="middle" fill="#4a4a4a">0</text>
<text x="67.55" y="245.10" font-size="5.2" text-anchor="middle" fill="#4a4a4a">2</text>
<text x="67.55" y="253.70" font-size="5.2" text-anchor="middle" fill="#4a4a4a">0</text>
<text x="76.28" y="245.10" font-size="5.2" text-anchor="middle" fill="#4a4a4a">3</text>
<text x="76.28" y="253.70" font-size="5.2" text-anchor="middle" fill="#4a4a4a">2</text>
<text x="85.01" y="245.10" font-size="5.2" text-anchor="middle" fill="#4a4a4a">1</text>
<text x="85.01" y="253.70" font-size="5.2" text-anchor="middle" fill="#4a4a4a">0</text>
<text x="93.74" y="245.1" font-size="5.2" text-anchor="middle" fill="#4a4a4a">0.5<tspan font-size="3.6" dy="-1.8">a</tspan></text>
<text x="93.74" y="253.7" font-size="5.2" text-anchor="middle" fill="#4a4a4a">0<tspan font-size="3.6" dy="-1.8">a</tspan></text>
<text x="102.47" y="245.10" font-size="5.2" text-anchor="middle" fill="#4a4a4a">0</text>
<text x="102.47" y="253.70" font-size="5.2" text-anchor="middle" fill="#4a4a4a">0</text>
<text x="111.21" y="245.10" font-size="5.2" text-anchor="middle" fill="#4a4a4a">0</text>
<text x="111.21" y="253.70" font-size="5.2" text-anchor="middle" fill="#4a4a4a">0</text>
<text x="119.94" y="245.10" font-size="5.2" text-anchor="middle" fill="#4a4a4a">10</text>
<text x="119.94" y="253.70" font-size="5.2" text-anchor="middle" fill="#4a4a4a">0</text>
<text x="128.67" y="245.10" font-size="5.2" text-anchor="middle" fill="#4a4a4a">10</text>
<text x="128.67" y="253.70" font-size="5.2" text-anchor="middle" fill="#4a4a4a">1</text>
<text x="137.40" y="245.10" font-size="5.2" text-anchor="middle" fill="#4a4a4a">NE</text>
<text x="137.40" y="253.70" font-size="5.2" text-anchor="middle" fill="#4a4a4a">NE</text>
<text x="146.13" y="245.1" font-size="5.2" text-anchor="middle" fill="#4a4a4a">0<tspan font-size="3.6" dy="-1.8">a</tspan></text>
<text x="146.13" y="253.7" font-size="5.2" text-anchor="middle" fill="#4a4a4a">0<tspan font-size="3.6" dy="-1.8">a</tspan></text>
<text x="154.87" y="245.10" font-size="5.2" text-anchor="middle" fill="#4a4a4a">45</text>
<text x="154.87" y="253.70" font-size="5.2" text-anchor="middle" fill="#4a4a4a">35</text>
<text x="163.60" y="245.10" font-size="5.2" text-anchor="middle" fill="#4a4a4a">0</text>
<text x="163.60" y="253.70" font-size="5.2" text-anchor="middle" fill="#4a4a4a">0</text>
<text x="172.33" y="245.10" font-size="5.2" text-anchor="middle" fill="#4a4a4a">NE</text>
<text x="172.33" y="253.70" font-size="5.2" text-anchor="middle" fill="#4a4a4a">NE</text>
<text x="181.06" y="245.10" font-size="5.2" text-anchor="middle" fill="#4a4a4a">25</text>
<text x="181.06" y="253.70" font-size="5.2" text-anchor="middle" fill="#4a4a4a">0.5</text>
<text x="189.79" y="245.10" font-size="5.2" text-anchor="middle" fill="#4a4a4a">8</text>
<text x="189.79" y="253.70" font-size="5.2" text-anchor="middle" fill="#4a4a4a">0.5</text>
<text x="198.53" y="245.10" font-size="5.2" text-anchor="middle" fill="#4a4a4a">0</text>
<text x="198.53" y="253.70" font-size="5.2" text-anchor="middle" fill="#4a4a4a">0</text>
<text x="207.26" y="245.10" font-size="5.2" text-anchor="middle" fill="#4a4a4a">NE</text>
<text x="207.26" y="253.70" font-size="5.2" text-anchor="middle" fill="#4a4a4a">NE</text>
<text x="215.99" y="245.10" font-size="5.2" text-anchor="middle" fill="#4a4a4a">NE</text>
<text x="215.99" y="253.70" font-size="5.2" text-anchor="middle" fill="#4a4a4a">NE</text>
<text x="224.72" y="245.1" font-size="5.2" text-anchor="middle" fill="#4a4a4a">1<tspan font-size="3.6" dy="-1.8">a</tspan></text>
<text x="224.72" y="253.7" font-size="5.2" text-anchor="middle" fill="#4a4a4a">0<tspan font-size="3.6" dy="-1.8">a</tspan></text>
<text x="233.45" y="245.10" font-size="5.2" text-anchor="middle" fill="#4a4a4a">2</text>
<text x="233.45" y="253.70" font-size="5.2" text-anchor="middle" fill="#4a4a4a">0</text>
<text x="242.19" y="245.1" font-size="5.2" text-anchor="middle" fill="#4a4a4a">5<tspan font-size="3.6" dy="-1.8">a</tspan></text>
<text x="242.19" y="253.7" font-size="5.2" text-anchor="middle" fill="#4a4a4a">0.5<tspan font-size="3.6" dy="-1.8">a</tspan></text>
<text x="250.92" y="245.10" font-size="5.2" text-anchor="middle" fill="#4a4a4a">0</text>
<text x="250.92" y="253.70" font-size="5.2" text-anchor="middle" fill="#4a4a4a">0</text>
<text x="259.65" y="245.10" font-size="5.2" text-anchor="middle" fill="#4a4a4a">NE</text>
<text x="259.65" y="253.70" font-size="5.2" text-anchor="middle" fill="#4a4a4a">NE</text>
<text x="268.38" y="245.1" font-size="5.2" text-anchor="middle" fill="#4a4a4a">0.5<tspan font-size="3.6" dy="-1.8">a</tspan></text>
<text x="268.38" y="253.7" font-size="5.2" text-anchor="middle" fill="#4a4a4a">0<tspan font-size="3.6" dy="-1.8">a</tspan></text>
<text x="277.11" y="245.10" font-size="5.2" text-anchor="middle" fill="#4a4a4a">3</text>
<text x="277.11" y="253.70" font-size="5.2" text-anchor="middle" fill="#4a4a4a">1</text>
<text x="285.85" y="245.10" font-size="5.2" text-anchor="middle" fill="#4a4a4a">0.5</text>
<text x="285.85" y="253.70" font-size="5.2" text-anchor="middle" fill="#4a4a4a">0</text>
<text x="294.58" y="245.10" font-size="5.2" text-anchor="middle" fill="#4a4a4a">0</text>
<text x="294.58" y="253.70" font-size="5.2" text-anchor="middle" fill="#4a4a4a">0</text>
<text x="303.31" y="245.10" font-size="5.2" text-anchor="middle" fill="#4a4a4a">0</text>
<text x="303.31" y="253.70" font-size="5.2" text-anchor="middle" fill="#4a4a4a">0</text>
<text x="312.04" y="245.10" font-size="5.2" text-anchor="middle" fill="#4a4a4a">0</text>
<text x="312.04" y="253.70" font-size="5.2" text-anchor="middle" fill="#4a4a4a">0</text>
<text x="320.77" y="245.10" font-size="5.2" text-anchor="middle" fill="#4a4a4a">NE</text>
<text x="320.77" y="253.70" font-size="5.2" text-anchor="middle" fill="#4a4a4a">NE</text>
<text x="329.51" y="245.10" font-size="5.2" text-anchor="middle" fill="#4a4a4a">7</text>
<text x="329.51" y="253.70" font-size="5.2" text-anchor="middle" fill="#4a4a4a">0.5</text>
<text x="338.24" y="245.10" font-size="5.2" text-anchor="middle" fill="#4a4a4a">3</text>
<text x="338.24" y="253.70" font-size="5.2" text-anchor="middle" fill="#4a4a4a">1</text>
<text x="346.97" y="245.1" font-size="5.2" text-anchor="middle" fill="#4a4a4a">1<tspan font-size="3.6" dy="-1.8">a</tspan></text>
<text x="346.97" y="253.7" font-size="5.2" text-anchor="middle" fill="#4a4a4a">0.5<tspan font-size="3.6" dy="-1.8">a</tspan></text>
<text x="355.70" y="245.10" font-size="5.2" text-anchor="middle" fill="#4a4a4a">NE</text>
<text x="355.70" y="253.70" font-size="5.2" text-anchor="middle" fill="#4a4a4a">NE</text>
<text x="364.43" y="245.10" font-size="5.2" text-anchor="middle" fill="#4a4a4a">5</text>
<text x="364.43" y="253.70" font-size="5.2" text-anchor="middle" fill="#4a4a4a">0</text>
<text x="373.17" y="245.10" font-size="5.2" text-anchor="middle" fill="#4a4a4a">0</text>
<text x="373.17" y="253.70" font-size="5.2" text-anchor="middle" fill="#4a4a4a">0</text>
<text x="381.90" y="245.10" font-size="5.2" text-anchor="middle" fill="#4a4a4a">0</text>
<text x="381.90" y="253.70" font-size="5.2" text-anchor="middle" fill="#4a4a4a">0</text>
<text x="390.63" y="245.10" font-size="5.2" text-anchor="middle" fill="#4a4a4a">15</text>
<text x="390.63" y="253.70" font-size="5.2" text-anchor="middle" fill="#4a4a4a">0</text>
<text x="399.36" y="245.1" font-size="5.2" text-anchor="middle" fill="#4a4a4a">15<tspan font-size="3.6" dy="-1.8">a</tspan></text>
<text x="399.36" y="253.7" font-size="5.2" text-anchor="middle" fill="#4a4a4a">8<tspan font-size="3.6" dy="-1.8">a</tspan></text>
<text x="408.09" y="245.10" font-size="5.2" text-anchor="middle" fill="#4a4a4a">1</text>
<text x="408.09" y="253.70" font-size="5.2" text-anchor="middle" fill="#4a4a4a">0</text>
<text x="416.83" y="245.10" font-size="5.2" text-anchor="middle" fill="#4a4a4a">3</text>
<text x="416.83" y="253.70" font-size="5.2" text-anchor="middle" fill="#4a4a4a">0</text>
<text x="425.56" y="245.10" font-size="5.2" text-anchor="middle" fill="#4a4a4a">0</text>
<text x="425.56" y="253.70" font-size="5.2" text-anchor="middle" fill="#4a4a4a">0</text>
<text x="434.29" y="245.10" font-size="5.2" text-anchor="middle" fill="#4a4a4a">NE</text>
<text x="434.29" y="253.70" font-size="5.2" text-anchor="middle" fill="#4a4a4a">NE</text>
<text x="443.02" y="245.10" font-size="5.2" text-anchor="middle" fill="#4a4a4a">0</text>
<text x="443.02" y="253.70" font-size="5.2" text-anchor="middle" fill="#4a4a4a">0</text>
<text x="451.75" y="245.10" font-size="5.2" text-anchor="middle" fill="#4a4a4a">0</text>
<text x="451.75" y="253.70" font-size="5.2" text-anchor="middle" fill="#4a4a4a">0</text>
<text x="460.49" y="245.1" font-size="5.2" text-anchor="middle" fill="#4a4a4a">35<tspan font-size="3.6" dy="-1.8">a</tspan></text>
<text x="460.49" y="253.7" font-size="5.2" text-anchor="middle" fill="#4a4a4a">0<tspan font-size="3.6" dy="-1.8">a</tspan></text>
<text x="469.22" y="245.10" font-size="5.2" text-anchor="middle" fill="#4a4a4a">0</text>
<text x="469.22" y="253.70" font-size="5.2" text-anchor="middle" fill="#4a4a4a">0</text>
<text x="477.95" y="245.10" font-size="5.2" text-anchor="middle" fill="#4a4a4a">2</text>
<text x="477.95" y="253.70" font-size="5.2" text-anchor="middle" fill="#4a4a4a">0</text>
<text x="486.68" y="245.10" font-size="5.2" text-anchor="middle" fill="#4a4a4a">5</text>
<text x="486.68" y="253.70" font-size="5.2" text-anchor="middle" fill="#4a4a4a">1</text>
<text x="495.41" y="245.10" font-size="5.2" text-anchor="middle" fill="#4a4a4a">12</text>
<text x="495.41" y="253.70" font-size="5.2" text-anchor="middle" fill="#4a4a4a">0.5</text>
<text x="504.15" y="245.10" font-size="5.2" text-anchor="middle" fill="#4a4a4a">50</text>
<text x="504.15" y="253.70" font-size="5.2" text-anchor="middle" fill="#4a4a4a">30</text>
<text x="512.88" y="245.1" font-size="5.2" text-anchor="middle" fill="#4a4a4a">0.5<tspan font-size="3.6" dy="-1.8">a</tspan></text>
<text x="512.88" y="253.7" font-size="5.2" text-anchor="middle" fill="#4a4a4a">0<tspan font-size="3.6" dy="-1.8">a</tspan></text>
<text x="59.50" y="263.90" font-size="5.2" text-anchor="middle" fill="#4a4a4a">NA</text>
<text x="86.00" y="263.90" font-size="5.2" text-anchor="middle" fill="#4a4a4a">PD</text>
<text x="120.00" y="263.90" font-size="5.2" text-anchor="middle" fill="#4a4a4a">PD</text>
<text x="137.00" y="263.90" font-size="5.2" text-anchor="middle" fill="#4a4a4a">PR</text>
<text x="145.50" y="263.90" font-size="5.2" text-anchor="middle" fill="#4a4a4a">SD</text>
<text x="154.50" y="263.90" font-size="5.2" text-anchor="middle" fill="#4a4a4a">SD</text>
<text x="171.50" y="263.90" font-size="5.2" text-anchor="middle" fill="#4a4a4a">PD</text>
<text x="180.20" y="263.90" font-size="5.2" text-anchor="middle" fill="#4a4a4a">PD</text>
<text x="233.50" y="263.90" font-size="5.2" text-anchor="middle" fill="#4a4a4a">SD</text>
<text x="242.00" y="263.90" font-size="5.2" text-anchor="middle" fill="#4a4a4a">SD</text>
<text x="250.50" y="263.90" font-size="5.2" text-anchor="middle" fill="#4a4a4a">SD</text>
<text x="267.50" y="263.90" font-size="5.2" text-anchor="middle" fill="#4a4a4a">NA</text>
<text x="276.20" y="263.90" font-size="5.2" text-anchor="middle" fill="#4a4a4a">NA</text>
<text x="319.50" y="263.90" font-size="5.2" text-anchor="middle" fill="#4a4a4a">NA</text>
<text x="329.00" y="263.90" font-size="5.2" text-anchor="middle" fill="#4a4a4a">CR</text>
<text x="337.50" y="263.90" font-size="5.2" text-anchor="middle" fill="#4a4a4a">PR</text>
<text x="363.70" y="263.90" font-size="5.2" text-anchor="middle" fill="#4a4a4a">PD</text>
<text x="372.30" y="263.90" font-size="5.2" text-anchor="middle" fill="#4a4a4a">PR</text>
<text x="442.50" y="263.90" font-size="5.2" text-anchor="middle" fill="#4a4a4a">SD</text>
<text x="484.50" y="263.90" font-size="5.2" text-anchor="middle" fill="#4a4a4a">PR</text>
<text x="502.80" y="263.90" font-size="5.2" text-anchor="middle" fill="#4a4a4a">PD</text>
<line x1="37" y1="256" x2="37" y2="269" stroke="#eeeeee" stroke-width="0.5"/>
<line x1="76" y1="256" x2="76" y2="269" stroke="#eeeeee" stroke-width="0.5"/>
<line x1="99" y1="256" x2="99" y2="269" stroke="#eeeeee" stroke-width="0.5"/>
<line x1="108" y1="256" x2="108" y2="269" stroke="#eeeeee" stroke-width="0.5"/>
<line x1="133" y1="256" x2="133" y2="269" stroke="#eeeeee" stroke-width="0.5"/>
<line x1="141" y1="256" x2="141" y2="269" stroke="#eeeeee" stroke-width="0.5"/>
<line x1="150" y1="256" x2="150" y2="269" stroke="#eeeeee" stroke-width="0.5"/>
<line x1="159" y1="256" x2="159" y2="269" stroke="#eeeeee" stroke-width="0.5"/>
<line x1="167" y1="256" x2="167" y2="269" stroke="#eeeeee" stroke-width="0.5"/>
<line x1="176" y1="256" x2="176" y2="269" stroke="#eeeeee" stroke-width="0.5"/>
<line x1="185" y1="256" x2="185" y2="269" stroke="#eeeeee" stroke-width="0.5"/>
<line x1="229" y1="256" x2="229" y2="269" stroke="#eeeeee" stroke-width="0.5"/>
<line x1="237" y1="256" x2="237" y2="269" stroke="#eeeeee" stroke-width="0.5"/>
<line x1="246" y1="256" x2="246" y2="269" stroke="#eeeeee" stroke-width="0.5"/>
<line x1="255" y1="256" x2="255" y2="269" stroke="#eeeeee" stroke-width="0.5"/>
<line x1="263" y1="256" x2="263" y2="269" stroke="#eeeeee" stroke-width="0.5"/>
<line x1="272" y1="256" x2="272" y2="269" stroke="#eeeeee" stroke-width="0.5"/>
<line x1="281" y1="256" x2="281" y2="269" stroke="#eeeeee" stroke-width="0.5"/>
<line x1="316" y1="256" x2="316" y2="269" stroke="#eeeeee" stroke-width="0.5"/>
<line x1="325" y1="256" x2="325" y2="269" stroke="#eeeeee" stroke-width="0.5"/>
<line x1="333" y1="256" x2="333" y2="269" stroke="#eeeeee" stroke-width="0.5"/>
<line x1="342" y1="256" x2="342" y2="269" stroke="#eeeeee" stroke-width="0.5"/>
<line x1="359" y1="256" x2="359" y2="269" stroke="#eeeeee" stroke-width="0.5"/>
<line x1="368" y1="256" x2="368" y2="269" stroke="#eeeeee" stroke-width="0.5"/>
<line x1="377" y1="256" x2="377" y2="269" stroke="#eeeeee" stroke-width="0.5"/>
<line x1="395" y1="256" x2="395" y2="269" stroke="#eeeeee" stroke-width="0.5"/>
<line x1="490" y1="256" x2="490" y2="269" stroke="#eeeeee" stroke-width="0.5"/>
<line x1="499" y1="256" x2="499" y2="269" stroke="#eeeeee" stroke-width="0.5"/>
<line x1="507" y1="256" x2="507" y2="269" stroke="#eeeeee" stroke-width="0.5"/>
<text x="2.20" y="326.00" font-size="10.5" font-weight="bold" fill="#111">B</text>
<text x="271.40" y="325.80" font-size="10.5" font-weight="bold" fill="#111">C</text>
<text x="130.40" y="321.90" font-size="9.3" text-anchor="middle" font-weight="bold" fill="#111">NSCLC</text>
<text x="392.50" y="321.60" font-size="9.3" text-anchor="middle" font-weight="bold" fill="#111">Ovarian</text>
<text x="48.27" y="335.60" font-size="9.2" text-anchor="middle" fill="#333" stroke="#333" stroke-width="0.22">Baseline</text>
<text x="48.27" y="422.40" font-size="9.2" text-anchor="middle" fill="#333" stroke="#333" stroke-width="0.22">99 mm</text>
<text x="130.85" y="335.60" font-size="9.2" text-anchor="middle" fill="#333" stroke="#333" stroke-width="0.22">Week 11</text>
<text x="130.85" y="422.40" font-size="9.2" text-anchor="middle" fill="#333" stroke="#333" stroke-width="0.22">66 mm (&#8211;33%)</text>
<text x="215.45" y="335.60" font-size="9.2" text-anchor="middle" fill="#333" stroke="#333" stroke-width="0.22">Week 18</text>
<text x="215.45" y="422.40" font-size="9.2" text-anchor="middle" fill="#333" stroke="#333" stroke-width="0.22">49 mm (&#8211;57%)</text>
<text x="312.05" y="334.60" font-size="9.2" text-anchor="middle" fill="#333" stroke="#333" stroke-width="0.22">Baseline</text>
<text x="312.05" y="423.20" font-size="9.2" text-anchor="middle" fill="#333" stroke="#333" stroke-width="0.22">113 mm</text>
<text x="392.75" y="334.60" font-size="9.2" text-anchor="middle" fill="#333" stroke="#333" stroke-width="0.22">Week 19</text>
<text x="392.75" y="423.20" font-size="9.2" text-anchor="middle" fill="#333" stroke="#333" stroke-width="0.22">79 mm (&#8211;30%)</text>
<text x="473.45" y="334.60" font-size="9.2" text-anchor="middle" fill="#333" stroke="#333" stroke-width="0.22">Week 37</text>
<text x="473.45" y="423.20" font-size="9.2" text-anchor="middle" fill="#333" stroke="#333" stroke-width="0.22">73 mm (&#8211;35%)</text>
<g clip-path="url(#cl0)">
<rect x="8.65" y="339.0" width="79.25" height="72.45" fill="#040404"/>
<g transform="translate(8.65 339.0) scale(0.9748 1.0063) translate(-2.0 -1.0) rotate(0 41 33) translate(41 33) scale(0.94) translate(-41 -33)">
<g filter="url(#bl)">
<path d="M9.5 34.7 C9.5 31 10 28.5 11 26.8 C14 21 19 16.5 25.2 14.2 C30 12.3 35 11.6 39.4 11 C42 10.4 44.5 9.6 47.3 9.5 C52 9.3 56 9.8 60 11 C64 12.6 67 15.5 69.4 18.9 C71.5 22 73.3 25 74.1 28.4 C74.8 32 74.8 36 74.1 39.4 C73 42.5 70.5 45 67.8 47.3 C63 50.5 57.5 52.3 52 53.6 C47.5 54.6 43.5 55.2 39.4 55.2 C34 55.1 28.5 53.8 23.7 52 C19 50.3 15.2 47.5 12.6 44.2 C10.6 41.5 9.5 38 9.5 34.7 Z" fill="#2c2c2c" stroke="#7a7a7a" stroke-width="1.2"/>
<path d="M13.5 36 C13 29 16 23 22 19 C28 15.5 36 14.5 44 13.5 C52 12.8 60 14 65.5 19 C70 23.5 71.5 30 71 37 C70.5 42 68 45.5 63 48.5 C56 51.5 47 52.5 40 52.5 C32 52.3 24 50.5 19 47.5 C15.5 44.5 13.8 40.5 13.5 36 Z" fill="#5c5c5c"/>
<ellipse cx="15.5" cy="34" rx="3.2" ry="4" fill="#a8a8a8"/>
<ellipse cx="18" cy="41.5" rx="3.8" ry="3" fill="#b8b8b8"/>
<ellipse cx="69" cy="30.5" rx="3" ry="4.5" fill="#b0b0b0"/>
<ellipse cx="66.5" cy="38.5" rx="2.6" ry="3.5" fill="#a0a0a0"/>
<path d="M23 33 C23 26 26.5 20.5 32 18.5 C37 17 41.5 15.5 46 14.5 C52 13.5 58 14.2 61.5 17.5 C64.5 21 65.2 27 65 33 C64.8 40 63.5 46 59 49 C52 51.8 33 51.5 27.5 49 C24 46.5 23 40 23 33 Z" fill="#a8a8a8"/>
<path d="M26 26 C27.5 22 31 20.5 34.5 21 C37.5 21.8 38.8 24 38.8 28 L38.6 41 C38 46 35.5 48 32 48 C28.5 47.8 26.3 45.5 25.6 41 C25 36 25.2 30 26 26 Z" fill="#060606"/>
<path d="M45.5 19 C48 16 54 15.3 58 16.8 C61.5 18.6 62.8 24 62.6 31 C62.4 38 61.6 43.5 58.5 46.5 C55.5 48.3 50 48.2 47.5 46 C46 41 45.5 35 45.3 29 C45.2 25 45 21.5 45.5 19 Z" fill="#060606"/>
<ellipse cx="31.5" cy="30.00" rx="6.50" ry="9.50" fill="#8a8a8a"/>
<path d="M35.5 22 C38 19.5 43 19 45.5 21 C47 25 47 32 46 38 C44 41 38.5 41 36.5 38 C35 33 34.5 27 35.5 22 Z" fill="#8f8f8f"/>
<ellipse cx="38.5" cy="25" rx="2.8" ry="3.2" fill="#f0f0f0"/>
<ellipse cx="42.8" cy="24" rx="2" ry="2.4" fill="#d8d8d8"/>
<ellipse cx="44.5" cy="35.5" rx="2.4" ry="2.8" fill="#e8e8e8"/>
<ellipse cx="38.5" cy="32.5" rx="2.6" ry="2.6" fill="#e6e6e6"/>
<path d="M39.5 41 C41.5 40 46 40 47.5 41.5 C48.5 44 48 47.5 46 49 C44 49.8 42 49.8 40.8 49 C39.2 47.5 39 44 39.5 41 Z" fill="#e4e4e4"/>
</g>
</g>
<g transform="translate(8.65 339.0) scale(0.9748 1.0063)"><path d="M7 54 C7 57.5 9 59.8 14 60.3 C28 61.6 54 61.6 68 60.3 C73 59.8 75 57.5 75 54" fill="none" stroke="#e0e0e0" stroke-width="1.2" stroke-opacity="0.45"/></g>
<g transform="translate(8.65 339.0) scale(0.9748 1.0063)"><path d="M19.87 14.82 L23.79 20.25 L22.07 21.49 L27.50 23.00 L27.78 17.37 L26.06 18.61 L22.13 13.18 Z" fill="#F07A2A"/></g>
</g>
<g clip-path="url(#cl1)">
<rect x="90.2" y="339.0" width="81.3" height="72.45" fill="#040404"/>
<g transform="translate(90.2 339.0) scale(1.0000 1.0063) translate(0 0) rotate(0 41 33) translate(41 33) scale(1) translate(-41 -33)">
<g filter="url(#bl)">
<path d="M9.5 34.7 C9.5 31 10 28.5 11 26.8 C14 21 19 16.5 25.2 14.2 C30 12.3 35 11.6 39.4 11 C42 10.4 44.5 9.6 47.3 9.5 C52 9.3 56 9.8 60 11 C64 12.6 67 15.5 69.4 18.9 C71.5 22 73.3 25 74.1 28.4 C74.8 32 74.8 36 74.1 39.4 C73 42.5 70.5 45 67.8 47.3 C63 50.5 57.5 52.3 52 53.6 C47.5 54.6 43.5 55.2 39.4 55.2 C34 55.1 28.5 53.8 23.7 52 C19 50.3 15.2 47.5 12.6 44.2 C10.6 41.5 9.5 38 9.5 34.7 Z" fill="#2c2c2c" stroke="#7a7a7a" stroke-width="1.2"/>
<path d="M13.5 36 C13 29 16 23 22 19 C28 15.5 36 14.5 44 13.5 C52 12.8 60 14 65.5 19 C70 23.5 71.5 30 71 37 C70.5 42 68 45.5 63 48.5 C56 51.5 47 52.5 40 52.5 C32 52.3 24 50.5 19 47.5 C15.5 44.5 13.8 40.5 13.5 36 Z" fill="#5c5c5c"/>
<ellipse cx="15.5" cy="34" rx="3.2" ry="4" fill="#a8a8a8"/>
<ellipse cx="18" cy="41.5" rx="3.8" ry="3" fill="#b8b8b8"/>
<ellipse cx="69" cy="30.5" rx="3" ry="4.5" fill="#b0b0b0"/>
<ellipse cx="66.5" cy="38.5" rx="2.6" ry="3.5" fill="#a0a0a0"/>
<path d="M23 33 C23 26 26.5 20.5 32 18.5 C37 17 41.5 15.5 46 14.5 C52 13.5 58 14.2 61.5 17.5 C64.5 21 65.2 27 65 33 C64.8 40 63.5 46 59 49 C52 51.8 33 51.5 27.5 49 C24 46.5 23 40 23 33 Z" fill="#a8a8a8"/>
<path d="M26 26 C27.5 22 31 20.5 34.5 21 C37.5 21.8 38.8 24 38.8 28 L38.6 41 C38 46 35.5 48 32 48 C28.5 47.8 26.3 45.5 25.6 41 C25 36 25.2 30 26 26 Z" fill="#060606"/>
<path d="M45.5 19 C48 16 54 15.3 58 16.8 C61.5 18.6 62.8 24 62.6 31 C62.4 38 61.6 43.5 58.5 46.5 C55.5 48.3 50 48.2 47.5 46 C46 41 45.5 35 45.3 29 C45.2 25 45 21.5 45.5 19 Z" fill="#060606"/>
<ellipse cx="31.5" cy="28.50" rx="3.25" ry="4.75" fill="#8a8a8a"/>
<path d="M35.5 22 C38 19.5 43 19 45.5 21 C47 25 47 32 46 38 C44 41 38.5 41 36.5 38 C35 33 34.5 27 35.5 22 Z" fill="#8f8f8f"/>
<ellipse cx="38.5" cy="25" rx="2.8" ry="3.2" fill="#f0f0f0"/>
<ellipse cx="42.8" cy="24" rx="2" ry="2.4" fill="#d8d8d8"/>
<ellipse cx="44.5" cy="35.5" rx="2.4" ry="2.8" fill="#e8e8e8"/>
<ellipse cx="38.5" cy="32.5" rx="2.6" ry="2.6" fill="#e6e6e6"/>
<path d="M39.5 41 C41.5 40 46 40 47.5 41.5 C48.5 44 48 47.5 46 49 C44 49.8 42 49.8 40.8 49 C39.2 47.5 39 44 39.5 41 Z" fill="#e4e4e4"/>
</g>
</g>
<g transform="translate(90.2 339.0) scale(1.0000 1.0063)"><path d="M7 54 C7 57.5 9 59.8 14 60.3 C28 61.6 54 61.6 68 60.3 C73 59.8 75 57.5 75 54" fill="none" stroke="#e0e0e0" stroke-width="1.2" stroke-opacity="1"/></g>
<g transform="translate(90.2 339.0) scale(1.0000 1.0063)"><path d="M21.34 18.28 L25.59 24.62 L23.83 25.80 L29.20 27.50 L29.68 21.89 L27.91 23.07 L23.66 16.72 Z" fill="#F07A2A"/></g>
</g>
<g clip-path="url(#cl2)">
<rect x="174.0" y="339.0" width="82.9" height="72.45" fill="#040404"/>
<g transform="translate(174.0 339.0) scale(1.0197 1.0063) translate(0 0) rotate(-6 41 33) translate(41 33) scale(1) translate(-41 -33)">
<g filter="url(#bl)">
<path d="M9.5 34.7 C9.5 31 10 28.5 11 26.8 C14 21 19 16.5 25.2 14.2 C30 12.3 35 11.6 39.4 11 C42 10.4 44.5 9.6 47.3 9.5 C52 9.3 56 9.8 60 11 C64 12.6 67 15.5 69.4 18.9 C71.5 22 73.3 25 74.1 28.4 C74.8 32 74.8 36 74.1 39.4 C73 42.5 70.5 45 67.8 47.3 C63 50.5 57.5 52.3 52 53.6 C47.5 54.6 43.5 55.2 39.4 55.2 C34 55.1 28.5 53.8 23.7 52 C19 50.3 15.2 47.5 12.6 44.2 C10.6 41.5 9.5 38 9.5 34.7 Z" fill="#2c2c2c" stroke="#7a7a7a" stroke-width="1.2"/>
<path d="M13.5 36 C13 29 16 23 22 19 C28 15.5 36 14.5 44 13.5 C52 12.8 60 14 65.5 19 C70 23.5 71.5 30 71 37 C70.5 42 68 45.5 63 48.5 C56 51.5 47 52.5 40 52.5 C32 52.3 24 50.5 19 47.5 C15.5 44.5 13.8 40.5 13.5 36 Z" fill="#5c5c5c"/>
<ellipse cx="15.5" cy="34" rx="3.2" ry="4" fill="#a8a8a8"/>
<ellipse cx="18" cy="41.5" rx="3.8" ry="3" fill="#b8b8b8"/>
<ellipse cx="69" cy="30.5" rx="3" ry="4.5" fill="#b0b0b0"/>
<ellipse cx="66.5" cy="38.5" rx="2.6" ry="3.5" fill="#a0a0a0"/>
<path d="M23 33 C23 26 26.5 20.5 32 18.5 C37 17 41.5 15.5 46 14.5 C52 13.5 58 14.2 61.5 17.5 C64.5 21 65.2 27 65 33 C64.8 40 63.5 46 59 49 C52 51.8 33 51.5 27.5 49 C24 46.5 23 40 23 33 Z" fill="#a8a8a8"/>
<path d="M26 26 C27.5 22 31 20.5 34.5 21 C37.5 21.8 38.8 24 38.8 28 L38.6 41 C38 46 35.5 48 32 48 C28.5 47.8 26.3 45.5 25.6 41 C25 36 25.2 30 26 26 Z" fill="#060606"/>
<path d="M45.5 19 C48 16 54 15.3 58 16.8 C61.5 18.6 62.8 24 62.6 31 C62.4 38 61.6 43.5 58.5 46.5 C55.5 48.3 50 48.2 47.5 46 C46 41 45.5 35 45.3 29 C45.2 25 45 21.5 45.5 19 Z" fill="#060606"/>
<ellipse cx="31.5" cy="28.20" rx="2.60" ry="3.80" fill="#8a8a8a"/>
<path d="M35.5 22 C38 19.5 43 19 45.5 21 C47 25 47 32 46 38 C44 41 38.5 41 36.5 38 C35 33 34.5 27 35.5 22 Z" fill="#8f8f8f"/>
<ellipse cx="38.5" cy="25" rx="2.8" ry="3.2" fill="#f0f0f0"/>
<ellipse cx="42.8" cy="24" rx="2" ry="2.4" fill="#d8d8d8"/>
<ellipse cx="44.5" cy="35.5" rx="2.4" ry="2.8" fill="#e8e8e8"/>
<ellipse cx="38.5" cy="32.5" rx="2.6" ry="2.6" fill="#e6e6e6"/>
<path d="M39.5 41 C41.5 40 46 40 47.5 41.5 C48.5 44 48 47.5 46 49 C44 49.8 42 49.8 40.8 49 C39.2 47.5 39 44 39.5 41 Z" fill="#e4e4e4"/>
</g>
</g>
<g transform="translate(174.0 339.0) scale(1.0197 1.0063)"><path d="M7 54 C7 57.5 9 59.8 14 60.3 C28 61.6 54 61.6 68 60.3 C73 59.8 75 57.5 75 54" fill="none" stroke="#e0e0e0" stroke-width="1.2" stroke-opacity="1"/></g>
<g transform="translate(174.0 339.0) scale(1.0197 1.0063)"><path d="M22.35 16.30 L27.84 24.19 L26.10 25.40 L31.50 27.00 L31.88 21.38 L30.14 22.59 L24.65 14.70 Z" fill="#F07A2A"/></g>
</g>
<g clip-path="url(#cl3)">
<rect x="273.1" y="339.35" width="77.9" height="73.0" fill="#040404"/>
<g transform="translate(273.1 339.35) scale(0.9987 1.0000) rotate(0 39 36)">
<path d="M4 50 C1 36 5 20 14 13 C22 7 32 5 40 5 C52 5 64 10 70 18 C76 26 77 40 74 52 C72 60 64 66 50 68 C36 69 20 67 10 62" fill="none" stroke="#5e5e5e" stroke-width="0.9"/>
<path d="M44 69 C56 68 66 66 74 63" fill="none" stroke="#3c3c3c" stroke-width="0.8"/>
<g filter="url(#bl)">
<path d="M13 35 C12.5 25 20 15 32 12.5 C42 10.8 55 14 60.5 23 C64 30 64.5 40 61 47 C57 53 48 56.5 38 56.5 C28 56.5 19 52 15 46 C13.5 42 13 38 13 35 Z" fill="#8e8e8e"/>
<path d="M20 24 C24 17 32 14.5 40 14.5 C48 14.5 54 18 56 25 C55 31 50 34 40 34.5 C30 35 22 31 20 24 Z" fill="#6c6c6c"/>
<ellipse cx="25" cy="26" rx="2.6" ry="4" fill="#141414"/>
<ellipse cx="50" cy="27" rx="2.8" ry="3.6" fill="#1c1c1c"/>
<ellipse cx="44" cy="20" rx="2" ry="2" fill="#222"/>
<ellipse cx="31" cy="30" rx="2" ry="2.5" fill="#2a2a2a"/>
<ellipse cx="36" cy="25" rx="6.00" ry="5.50" fill="#7f9a9c" fill-opacity="0.85"/>
<path d="M14.5 25.5 C17 24 20.5 27 23 30.5 C25 33.5 26.5 36.5 27.5 39.5 L24 40 C21.5 37 18.5 33.5 16.5 30.5 C15 28.5 14.2 27 14.5 25.5 Z" fill="#f4f4f4" stroke="#f0f0f0" stroke-width="0.00"/>
<path d="M62 25 C59.5 23.5 56 26.5 53.5 30 C51.5 33 50 36 49 39 L52.5 39.5 C55 36.5 58 33 60 30 C61.5 28 62.3 26.5 62 25 Z" fill="#f4f4f4" stroke="#f0f0f0" stroke-width="0.00"/>
<g transform="translate(38.5 45) scale(0.90) translate(-38.5 -45)"><path d="M24.5 39 L29.5 43.5 L34 40.5 L38.5 46 L43 40.5 L47.5 43.5 L52.5 39 L50.5 47 L44 52 L38.5 50.5 L33 52 L26.5 47 Z" fill="#ececec"/></g>
<ellipse cx="33.5" cy="47" rx="1.5" ry="2" fill="#3a3a3a"/>
<ellipse cx="43.5" cy="47" rx="1.5" ry="2" fill="#3a3a3a"/>
<ellipse cx="38.5" cy="43" rx="1.2" ry="1.5" fill="#555"/>
<ellipse cx="24" cy="49" rx="6" ry="3.5" fill="#9a9a9a"/>
<ellipse cx="54" cy="48" rx="6" ry="3.5" fill="#9a9a9a"/>
</g>
</g>
<g transform="translate(273.1 339.35) scale(0.9987 1.0000)"><path d="M23.89 10.25 L28.81 16.66 L27.13 17.95 L32.60 19.30 L32.71 13.67 L31.03 14.96 L26.11 8.55 Z" fill="#F07A2A"/></g>
</g>
<g clip-path="url(#cl4)">
<rect x="353.2" y="339.35" width="79.1" height="73.0" fill="#040404"/>
<g transform="translate(353.2 339.35) scale(1.0141 1.0000) rotate(0 39 36)">
<path d="M4 50 C1 36 5 20 14 13 C22 7 32 5 40 5 C52 5 64 10 70 18 C76 26 77 40 74 52 C72 60 64 66 50 68 C36 69 20 67 10 62" fill="none" stroke="#5e5e5e" stroke-width="0.9"/>
<path d="M44 69 C56 68 66 66 74 63" fill="none" stroke="#3c3c3c" stroke-width="0.8"/>
<g filter="url(#bl)">
<path d="M13 35 C12.5 25 20 15 32 12.5 C42 10.8 55 14 60.5 23 C64 30 64.5 40 61 47 C57 53 48 56.5 38 56.5 C28 56.5 19 52 15 46 C13.5 42 13 38 13 35 Z" fill="#8e8e8e"/>
<path d="M20 24 C24 17 32 14.5 40 14.5 C48 14.5 54 18 56 25 C55 31 50 34 40 34.5 C30 35 22 31 20 24 Z" fill="#6c6c6c"/>
<ellipse cx="25" cy="26" rx="2.6" ry="4" fill="#141414"/>
<ellipse cx="50" cy="27" rx="2.8" ry="3.6" fill="#1c1c1c"/>
<ellipse cx="44" cy="20" rx="2" ry="2" fill="#222"/>
<ellipse cx="31" cy="30" rx="2" ry="2.5" fill="#2a2a2a"/>
<ellipse cx="36" cy="25" rx="4.80" ry="4.40" fill="#7f9a9c" fill-opacity="0.85"/>
<path d="M14.5 25.5 C17 24 20.5 27 23 30.5 C25 33.5 26.5 36.5 27.5 39.5 L24 40 C21.5 37 18.5 33.5 16.5 30.5 C15 28.5 14.2 27 14.5 25.5 Z" fill="#f4f4f4" stroke="#f0f0f0" stroke-width="1.00"/>
<path d="M62 25 C59.5 23.5 56 26.5 53.5 30 C51.5 33 50 36 49 39 L52.5 39.5 C55 36.5 58 33 60 30 C61.5 28 62.3 26.5 62 25 Z" fill="#f4f4f4" stroke="#f0f0f0" stroke-width="1.00"/>
<g transform="translate(38.5 45) scale(1.25) translate(-38.5 -45)"><path d="M24.5 39 L29.5 43.5 L34 40.5 L38.5 46 L43 40.5 L47.5 43.5 L52.5 39 L50.5 47 L44 52 L38.5 50.5 L33 52 L26.5 47 Z" fill="#ececec"/></g>
<ellipse cx="33.5" cy="47" rx="1.5" ry="2" fill="#3a3a3a"/>
<ellipse cx="43.5" cy="47" rx="1.5" ry="2" fill="#3a3a3a"/>
<ellipse cx="38.5" cy="43" rx="1.2" ry="1.5" fill="#555"/>
<ellipse cx="24" cy="49" rx="6" ry="3.5" fill="#9a9a9a"/>
<ellipse cx="54" cy="48" rx="6" ry="3.5" fill="#9a9a9a"/>
</g>
</g>
<g transform="translate(353.2 339.35) scale(1.0141 1.0000)"><path d="M26.22 6.76 L30.14 12.86 L28.36 14.00 L33.70 15.80 L34.28 10.20 L32.50 11.34 L28.58 5.24 Z" fill="#F07A2A"/></g>
</g>
<g clip-path="url(#cl5)">
<rect x="435.0" y="339.35" width="76.9" height="73.0" fill="#040404"/>
<g transform="translate(435.0 339.35) scale(0.9859 1.0000) rotate(0 39 36)">
<path d="M4 50 C1 36 5 20 14 13 C22 7 32 5 40 5 C52 5 64 10 70 18 C76 26 77 40 74 52 C72 60 64 66 50 68 C36 69 20 67 10 62" fill="none" stroke="#5e5e5e" stroke-width="0.9"/>
<path d="M44 69 C56 68 66 66 74 63" fill="none" stroke="#3c3c3c" stroke-width="0.8"/>
<g filter="url(#bl)">
<path d="M13 35 C12.5 25 20 15 32 12.5 C42 10.8 55 14 60.5 23 C64 30 64.5 40 61 47 C57 53 48 56.5 38 56.5 C28 56.5 19 52 15 46 C13.5 42 13 38 13 35 Z" fill="#8e8e8e"/>
<path d="M20 24 C24 17 32 14.5 40 14.5 C48 14.5 54 18 56 25 C55 31 50 34 40 34.5 C30 35 22 31 20 24 Z" fill="#6c6c6c"/>
<ellipse cx="25" cy="26" rx="2.6" ry="4" fill="#141414"/>
<ellipse cx="50" cy="27" rx="2.8" ry="3.6" fill="#1c1c1c"/>
<ellipse cx="44" cy="20" rx="2" ry="2" fill="#222"/>
<ellipse cx="31" cy="30" rx="2" ry="2.5" fill="#2a2a2a"/>
<ellipse cx="36" cy="25" rx="4.50" ry="4.12" fill="#7f9a9c" fill-opacity="0.85"/>
<path d="M14.5 25.5 C17 24 20.5 27 23 30.5 C25 33.5 26.5 36.5 27.5 39.5 L24 40 C21.5 37 18.5 33.5 16.5 30.5 C15 28.5 14.2 27 14.5 25.5 Z" fill="#f4f4f4" stroke="#f0f0f0" stroke-width="1.20"/>
<path d="M62 25 C59.5 23.5 56 26.5 53.5 30 C51.5 33 50 36 49 39 L52.5 39.5 C55 36.5 58 33 60 30 C61.5 28 62.3 26.5 62 25 Z" fill="#f4f4f4" stroke="#f0f0f0" stroke-width="1.20"/>
<g transform="translate(38.5 45) scale(1.30) translate(-38.5 -45)"><path d="M24.5 39 L29.5 43.5 L34 40.5 L38.5 46 L43 40.5 L47.5 43.5 L52.5 39 L50.5 47 L44 52 L38.5 50.5 L33 52 L26.5 47 Z" fill="#ececec"/></g>
<ellipse cx="33.5" cy="47" rx="1.5" ry="2" fill="#3a3a3a"/>
<ellipse cx="43.5" cy="47" rx="1.5" ry="2" fill="#3a3a3a"/>
<ellipse cx="38.5" cy="43" rx="1.2" ry="1.5" fill="#555"/>
<ellipse cx="24" cy="49" rx="6" ry="3.5" fill="#9a9a9a"/>
<ellipse cx="54" cy="48" rx="6" ry="3.5" fill="#9a9a9a"/>
</g>
</g>
<g transform="translate(435.0 339.35) scale(0.9859 1.0000)"><path d="M21.37 11.82 L25.88 18.06 L24.17 19.30 L29.60 20.80 L29.87 15.17 L28.15 16.42 L23.63 10.18 Z" fill="#F07A2A"/></g>
</g>
<text x="2.60" y="470.80" font-size="10.5" font-weight="bold" fill="#111">D</text>
<text x="276.00" y="470.80" font-size="10.5" font-weight="bold" fill="#111">E</text>
<line x1="38.40" y1="488.90" x2="38.40" y2="585.80" stroke="#bfb7ba" stroke-width="0.9" stroke-dasharray="1.9 2.5"/>
<line x1="83.85" y1="488.90" x2="83.85" y2="585.80" stroke="#bfb7ba" stroke-width="0.9" stroke-dasharray="1.9 2.5"/>
<line x1="129.30" y1="488.90" x2="129.30" y2="585.80" stroke="#bfb7ba" stroke-width="0.9" stroke-dasharray="1.9 2.5"/>
<line x1="35.70" y1="582.80" x2="35.70" y2="504.80" stroke="#bdbdbd" stroke-width="0.6"/>
<line x1="33.50" y1="582.80" x2="35.70" y2="582.80" stroke="#777" stroke-width="0.7"/>
<text x="30.40" y="582.80" font-size="8" text-anchor="middle" fill="#3a3a3a" stroke="#3a3a3a" stroke-width="0.18" transform="rotate(-90 30.40 582.80)">1</text>
<line x1="33.50" y1="563.30" x2="35.70" y2="563.30" stroke="#777" stroke-width="0.7"/>
<text x="30.40" y="563.30" font-size="8" text-anchor="middle" fill="#3a3a3a" stroke="#3a3a3a" stroke-width="0.18" transform="rotate(-90 30.40 563.30)">2</text>
<line x1="33.50" y1="543.80" x2="35.70" y2="543.80" stroke="#777" stroke-width="0.7"/>
<text x="30.40" y="543.80" font-size="8" text-anchor="middle" fill="#3a3a3a" stroke="#3a3a3a" stroke-width="0.18" transform="rotate(-90 30.40 543.80)">3</text>
<line x1="33.50" y1="524.30" x2="35.70" y2="524.30" stroke="#777" stroke-width="0.7"/>
<text x="30.40" y="524.30" font-size="8" text-anchor="middle" fill="#3a3a3a" stroke="#3a3a3a" stroke-width="0.18" transform="rotate(-90 30.40 524.30)">4</text>
<line x1="33.50" y1="504.80" x2="35.70" y2="504.80" stroke="#777" stroke-width="0.7"/>
<text x="30.40" y="504.80" font-size="8" text-anchor="middle" fill="#3a3a3a" stroke="#3a3a3a" stroke-width="0.18" transform="rotate(-90 30.40 504.80)">5</text>
<line x1="38.40" y1="586.30" x2="129.30" y2="586.30" stroke="#bdbdbd" stroke-width="0.6"/>
<line x1="38.40" y1="586.30" x2="38.40" y2="588.50" stroke="#777" stroke-width="0.7"/>
<line x1="45.98" y1="586.30" x2="45.98" y2="588.50" stroke="#777" stroke-width="0.7"/>
<line x1="53.55" y1="586.30" x2="53.55" y2="588.50" stroke="#777" stroke-width="0.7"/>
<line x1="61.12" y1="586.30" x2="61.12" y2="588.50" stroke="#777" stroke-width="0.7"/>
<line x1="68.70" y1="586.30" x2="68.70" y2="588.50" stroke="#777" stroke-width="0.7"/>
<line x1="76.28" y1="586.30" x2="76.28" y2="588.50" stroke="#777" stroke-width="0.7"/>
<line x1="83.85" y1="586.30" x2="83.85" y2="588.50" stroke="#777" stroke-width="0.7"/>
<line x1="91.42" y1="586.30" x2="91.42" y2="588.50" stroke="#777" stroke-width="0.7"/>
<line x1="99.00" y1="586.30" x2="99.00" y2="588.50" stroke="#777" stroke-width="0.7"/>
<line x1="106.57" y1="586.30" x2="106.57" y2="588.50" stroke="#777" stroke-width="0.7"/>
<line x1="114.15" y1="586.30" x2="114.15" y2="588.50" stroke="#777" stroke-width="0.7"/>
<line x1="121.72" y1="586.30" x2="121.72" y2="588.50" stroke="#777" stroke-width="0.7"/>
<line x1="129.30" y1="586.30" x2="129.30" y2="588.50" stroke="#777" stroke-width="0.7"/>
<text x="19.80" y="543.80" font-size="8" text-anchor="middle" fill="#3a3a3a" stroke="#3a3a3a" stroke-width="0.18" transform="rotate(-90 19.80 543.80)">Fold change from baseline</text>
<polyline points="38.40,582.80 45.98,563.30 53.55,563.30 61.12,563.30 68.70,563.30 76.28,563.30 83.85,563.30 91.42,563.30 99.00,563.30 106.57,563.30 114.15,563.30 121.72,563.30 129.30,548.09" fill="none" stroke="#6a6a6a" stroke-width="0.9" stroke-linejoin="miter"/>
<polyline points="38.40,582.80 45.98,580.85 53.55,577.92 61.12,559.40 68.70,557.45 76.28,557.45 83.85,557.45 91.42,571.10 99.00,567.78 106.57,567.78 114.15,563.30 121.72,567.20 129.30,567.20" fill="none" stroke="#8fd3dc" stroke-width="0.9" stroke-linejoin="miter"/>
<polyline points="38.40,582.80 45.98,577.34 53.55,578.70 61.12,557.84 68.70,555.50 76.28,518.45 83.85,575.19 91.42,576.56 99.00,578.70 106.57,577.14 114.15,578.70 121.72,576.56 129.30,570.90" fill="none" stroke="#cc3560" stroke-width="1.3" stroke-linejoin="miter"/>
<polyline points="38.40,582.80 45.98,560.57 53.55,538.34 61.12,515.91 68.70,523.71 76.28,500.90 83.85,492.51 91.42,510.06 99.00,502.85 106.57,528.98 114.15,555.50 121.72,545.75 129.30,520.40" fill="none" stroke="#2c8e80" stroke-width="1.4" stroke-linejoin="miter"/>
<text x="41.40" y="590.50" font-size="8.3" text-anchor="end" fill="#3a3a3a" stroke="#3a3a3a" stroke-width="0.18" transform="rotate(-90 41.40 590.50)">C1 D1&#8211;Pre</text>
<text x="48.98" y="590.50" font-size="8.3" text-anchor="end" fill="#3a3a3a" stroke="#3a3a3a" stroke-width="0.18" transform="rotate(-90 48.98 590.50)">C1 D1&#8211;2hr</text>
<text x="56.55" y="590.50" font-size="8.3" text-anchor="end" fill="#3a3a3a" stroke="#3a3a3a" stroke-width="0.18" transform="rotate(-90 56.55 590.50)">C1 D1&#8211;6hr</text>
<text x="64.12" y="590.50" font-size="8.3" text-anchor="end" fill="#3a3a3a" stroke="#3a3a3a" stroke-width="0.18" transform="rotate(-90 64.12 590.50)">C1 D2</text>
<text x="71.70" y="590.50" font-size="8.3" text-anchor="end" fill="#3a3a3a" stroke="#3a3a3a" stroke-width="0.18" transform="rotate(-90 71.70 590.50)">C1 D3</text>
<text x="79.28" y="590.50" font-size="8.3" text-anchor="end" fill="#3a3a3a" stroke="#3a3a3a" stroke-width="0.18" transform="rotate(-90 79.28 590.50)">C1 D8</text>
<text x="86.85" y="590.50" font-size="8.3" text-anchor="end" fill="#3a3a3a" stroke="#3a3a3a" stroke-width="0.18" transform="rotate(-90 86.85 590.50)">C2 D1&#8211;Pre</text>
<text x="94.42" y="590.50" font-size="8.3" text-anchor="end" fill="#3a3a3a" stroke="#3a3a3a" stroke-width="0.18" transform="rotate(-90 94.42 590.50)">C2 D1&#8211;2hr</text>
<text x="102.00" y="590.50" font-size="8.3" text-anchor="end" fill="#3a3a3a" stroke="#3a3a3a" stroke-width="0.18" transform="rotate(-90 102.00 590.50)">C2 D1&#8211;6hr</text>
<text x="109.57" y="590.50" font-size="8.3" text-anchor="end" fill="#3a3a3a" stroke="#3a3a3a" stroke-width="0.18" transform="rotate(-90 109.57 590.50)">C2 D2</text>
<text x="117.15" y="590.50" font-size="8.3" text-anchor="end" fill="#3a3a3a" stroke="#3a3a3a" stroke-width="0.18" transform="rotate(-90 117.15 590.50)">C2 D3</text>
<text x="124.72" y="590.50" font-size="8.3" text-anchor="end" fill="#3a3a3a" stroke="#3a3a3a" stroke-width="0.18" transform="rotate(-90 124.72 590.50)">C2 D8</text>
<text x="132.30" y="590.50" font-size="8.3" text-anchor="end" fill="#3a3a3a" stroke="#3a3a3a" stroke-width="0.18" transform="rotate(-90 132.30 590.50)">C3 D1&#8211;Pre</text>
<line x1="28.2" y1="467.90" x2="35.4" y2="467.90" stroke="#e3a0b2" stroke-width="0.8"/>
<text x="37.3" y="469.60" font-size="5.5" fill="#3a3a3a">CXCL9</text>
<line x1="28.2" y1="473.30" x2="35.4" y2="473.30" stroke="#b8e2d6" stroke-width="0.8"/>
<text x="37.3" y="475.00" font-size="5.5" fill="#3a3a3a">CXCL11</text>
<line x1="28.2" y1="478.60" x2="35.4" y2="478.60" stroke="#bfe6ec" stroke-width="0.8"/>
<text x="37.3" y="480.30" font-size="5.5" fill="#3a3a3a">CXCL10</text>
<line x1="28.2" y1="483.90" x2="35.4" y2="483.90" stroke="#c4c4c4" stroke-width="0.8"/>
<text x="37.3" y="485.60" font-size="5.5" fill="#3a3a3a">IFN&#947;</text>
<line x1="160.50" y1="489.19" x2="160.50" y2="586.50" stroke="#bfb7ba" stroke-width="0.9" stroke-dasharray="1.9 2.5"/>
<line x1="205.88" y1="489.19" x2="205.88" y2="586.50" stroke="#bfb7ba" stroke-width="0.9" stroke-dasharray="1.9 2.5"/>
<line x1="251.25" y1="489.19" x2="251.25" y2="586.50" stroke="#bfb7ba" stroke-width="0.9" stroke-dasharray="1.9 2.5"/>
<line x1="157.40" y1="583.00" x2="157.40" y2="501.00" stroke="#bdbdbd" stroke-width="0.6"/>
<line x1="155.20" y1="583.00" x2="157.40" y2="583.00" stroke="#777" stroke-width="0.7"/>
<text x="154.10" y="583.00" font-size="8" text-anchor="middle" fill="#3a3a3a" stroke="#3a3a3a" stroke-width="0.18" transform="rotate(-90 154.10 583.00)">0</text>
<line x1="155.20" y1="566.60" x2="157.40" y2="566.60" stroke="#777" stroke-width="0.7"/>
<text x="154.10" y="566.60" font-size="8" text-anchor="middle" fill="#3a3a3a" stroke="#3a3a3a" stroke-width="0.18" transform="rotate(-90 154.10 566.60)">2</text>
<line x1="155.20" y1="550.20" x2="157.40" y2="550.20" stroke="#777" stroke-width="0.7"/>
<text x="154.10" y="550.20" font-size="8" text-anchor="middle" fill="#3a3a3a" stroke="#3a3a3a" stroke-width="0.18" transform="rotate(-90 154.10 550.20)">4</text>
<line x1="155.20" y1="533.80" x2="157.40" y2="533.80" stroke="#777" stroke-width="0.7"/>
<text x="154.10" y="533.80" font-size="8" text-anchor="middle" fill="#3a3a3a" stroke="#3a3a3a" stroke-width="0.18" transform="rotate(-90 154.10 533.80)">6</text>
<line x1="155.20" y1="517.40" x2="157.40" y2="517.40" stroke="#777" stroke-width="0.7"/>
<text x="154.10" y="517.40" font-size="8" text-anchor="middle" fill="#3a3a3a" stroke="#3a3a3a" stroke-width="0.18" transform="rotate(-90 154.10 517.40)">8</text>
<line x1="155.20" y1="501.00" x2="157.40" y2="501.00" stroke="#777" stroke-width="0.7"/>
<text x="154.10" y="501.00" font-size="8" text-anchor="middle" fill="#3a3a3a" stroke="#3a3a3a" stroke-width="0.18" transform="rotate(-90 154.10 501.00)">10</text>
<line x1="160.50" y1="587.00" x2="251.25" y2="587.00" stroke="#bdbdbd" stroke-width="0.6"/>
<line x1="160.50" y1="587.00" x2="160.50" y2="589.20" stroke="#777" stroke-width="0.7"/>
<line x1="169.57" y1="587.00" x2="169.57" y2="589.20" stroke="#777" stroke-width="0.7"/>
<line x1="178.65" y1="587.00" x2="178.65" y2="589.20" stroke="#777" stroke-width="0.7"/>
<line x1="187.72" y1="587.00" x2="187.72" y2="589.20" stroke="#777" stroke-width="0.7"/>
<line x1="196.80" y1="587.00" x2="196.80" y2="589.20" stroke="#777" stroke-width="0.7"/>
<line x1="205.88" y1="587.00" x2="205.88" y2="589.20" stroke="#777" stroke-width="0.7"/>
<line x1="214.95" y1="587.00" x2="214.95" y2="589.20" stroke="#777" stroke-width="0.7"/>
<line x1="224.02" y1="587.00" x2="224.02" y2="589.20" stroke="#777" stroke-width="0.7"/>
<line x1="233.10" y1="587.00" x2="233.10" y2="589.20" stroke="#777" stroke-width="0.7"/>
<line x1="242.18" y1="587.00" x2="242.18" y2="589.20" stroke="#777" stroke-width="0.7"/>
<line x1="251.25" y1="587.00" x2="251.25" y2="589.20" stroke="#777" stroke-width="0.7"/>
<text x="142.00" y="543.00" font-size="8" text-anchor="middle" fill="#3a3a3a" stroke="#3a3a3a" stroke-width="0.18" transform="rotate(-90 142.00 543.00)">Fold change from baseline</text>
<polyline points="160.50,574.80 169.57,579.72 178.65,583.00 187.72,583.00 196.80,583.00 205.88,574.80 214.95,583.00 224.02,574.80 233.10,583.00 242.18,574.80 251.25,492.80" fill="none" stroke="#6a6a6a" stroke-width="0.9" stroke-linejoin="miter"/>
<polyline points="160.50,574.80 169.57,568.24 178.65,561.68 187.72,555.94 196.80,551.02 205.88,534.62 214.95,543.64 224.02,528.06 233.10,546.10 242.18,542.82 251.25,550.20" fill="none" stroke="#8fd3dc" stroke-width="0.9" stroke-linejoin="miter"/>
<polyline points="160.50,574.80 169.57,574.80 178.65,574.80 187.72,550.20 196.80,566.60 205.88,566.60 214.95,550.20 224.02,533.80 233.10,574.80 242.18,566.60 251.25,550.20" fill="none" stroke="#2c8e80" stroke-width="1.4" stroke-linejoin="miter"/>
<text x="163.50" y="590.50" font-size="8.3" text-anchor="end" fill="#3a3a3a" stroke="#3a3a3a" stroke-width="0.18" transform="rotate(-90 163.50 590.50)">C1 D1&#8211;Pre</text>
<text x="172.57" y="590.50" font-size="8.3" text-anchor="end" fill="#3a3a3a" stroke="#3a3a3a" stroke-width="0.18" transform="rotate(-90 172.57 590.50)">C1 D2</text>
<text x="181.65" y="590.50" font-size="8.3" text-anchor="end" fill="#3a3a3a" stroke="#3a3a3a" stroke-width="0.18" transform="rotate(-90 181.65 590.50)">C1 D3</text>
<text x="190.72" y="590.50" font-size="8.3" text-anchor="end" fill="#3a3a3a" stroke="#3a3a3a" stroke-width="0.18" transform="rotate(-90 190.72 590.50)">C1 D8</text>
<text x="199.80" y="590.50" font-size="8.3" text-anchor="end" fill="#3a3a3a" stroke="#3a3a3a" stroke-width="0.18" transform="rotate(-90 199.80 590.50)">C1 D15</text>
<text x="208.88" y="590.50" font-size="8.3" text-anchor="end" fill="#3a3a3a" stroke="#3a3a3a" stroke-width="0.18" transform="rotate(-90 208.88 590.50)">C2 D1&#8211;Pre</text>
<text x="217.95" y="590.50" font-size="8.3" text-anchor="end" fill="#3a3a3a" stroke="#3a3a3a" stroke-width="0.18" transform="rotate(-90 217.95 590.50)">C2 D2</text>
<text x="227.02" y="590.50" font-size="8.3" text-anchor="end" fill="#3a3a3a" stroke="#3a3a3a" stroke-width="0.18" transform="rotate(-90 227.02 590.50)">C2 D3</text>
<text x="236.10" y="590.50" font-size="8.3" text-anchor="end" fill="#3a3a3a" stroke="#3a3a3a" stroke-width="0.18" transform="rotate(-90 236.10 590.50)">C2 D8</text>
<text x="245.18" y="590.50" font-size="8.3" text-anchor="end" fill="#3a3a3a" stroke="#3a3a3a" stroke-width="0.18" transform="rotate(-90 245.18 590.50)">C2 D15</text>
<text x="254.25" y="590.50" font-size="8.3" text-anchor="end" fill="#3a3a3a" stroke="#3a3a3a" stroke-width="0.18" transform="rotate(-90 254.25 590.50)">C3 D1&#8211;Pre</text>
<line x1="152.5" y1="474.50" x2="157.2" y2="474.50" stroke="#cfcfcf" stroke-width="0.8"/>
<text x="159.0" y="476.20" font-size="5.3" fill="#3a3a3a">4-1BB<tspan dy="-1.5" font-size="3.8">+</tspan><tspan dy="1.5"> CD45RA</tspan><tspan dy="-1.5" font-size="3.8">&#8211;</tspan><tspan dy="1.5"> CCR7</tspan><tspan dy="-1.5" font-size="3.8">&#8211;</tspan><tspan dy="1.5"> CD8</tspan><tspan dy="-1.5" font-size="3.8">+</tspan><tspan dy="1.5"> T cells</tspan></text>
<line x1="152.5" y1="479.50" x2="157.2" y2="479.50" stroke="#bfe6ec" stroke-width="0.8"/>
<text x="159.0" y="481.20" font-size="5.3" fill="#3a3a3a">PD-1<tspan dy="-1.5" font-size="3.8">+</tspan><tspan dy="1.5"> CD45RA</tspan><tspan dy="-1.5" font-size="3.8">&#8211;</tspan><tspan dy="1.5"> CCR7</tspan><tspan dy="-1.5" font-size="3.8">&#8211;</tspan><tspan dy="1.5"> CD8</tspan><tspan dy="-1.5" font-size="3.8">+</tspan><tspan dy="1.5"> T cells</tspan></text>
<line x1="152.5" y1="485.00" x2="157.2" y2="485.00" stroke="#a6d6cc" stroke-width="0.8"/>
<text x="159.0" y="486.70" font-size="5.3" fill="#3a3a3a">Ki-67<tspan dy="-1.5" font-size="3.8">+</tspan><tspan dy="1.5"> CD45RA</tspan><tspan dy="-1.5" font-size="3.8">&#8211;</tspan><tspan dy="1.5"> CCR7</tspan><tspan dy="-1.5" font-size="3.8">&#8211;</tspan><tspan dy="1.5"> CD8</tspan><tspan dy="-1.5" font-size="3.8">+</tspan><tspan dy="1.5"> T cells</tspan></text>
<line x1="298.40" y1="487.69" x2="298.40" y2="585.60" stroke="#bfb7ba" stroke-width="0.9" stroke-dasharray="1.9 2.5"/>
<line x1="343.85" y1="487.69" x2="343.85" y2="585.60" stroke="#bfb7ba" stroke-width="0.9" stroke-dasharray="1.9 2.5"/>
<line x1="389.30" y1="487.69" x2="389.30" y2="585.60" stroke="#bfb7ba" stroke-width="0.9" stroke-dasharray="1.9 2.5"/>
<line x1="294.40" y1="575.20" x2="294.40" y2="491.32" stroke="#bdbdbd" stroke-width="0.6"/>
<line x1="292.20" y1="575.20" x2="294.40" y2="575.20" stroke="#777" stroke-width="0.7"/>
<text x="289.80" y="575.20" font-size="8" text-anchor="middle" fill="#3a3a3a" stroke="#3a3a3a" stroke-width="0.18" transform="rotate(-90 289.80 575.20)">1</text>
<line x1="292.20" y1="561.22" x2="294.40" y2="561.22" stroke="#777" stroke-width="0.7"/>
<text x="289.80" y="561.22" font-size="8" text-anchor="middle" fill="#3a3a3a" stroke="#3a3a3a" stroke-width="0.18" transform="rotate(-90 289.80 561.22)">2</text>
<line x1="292.20" y1="547.24" x2="294.40" y2="547.24" stroke="#777" stroke-width="0.7"/>
<text x="289.80" y="547.24" font-size="8" text-anchor="middle" fill="#3a3a3a" stroke="#3a3a3a" stroke-width="0.18" transform="rotate(-90 289.80 547.24)">3</text>
<line x1="292.20" y1="533.26" x2="294.40" y2="533.26" stroke="#777" stroke-width="0.7"/>
<text x="289.80" y="533.26" font-size="8" text-anchor="middle" fill="#3a3a3a" stroke="#3a3a3a" stroke-width="0.18" transform="rotate(-90 289.80 533.26)">4</text>
<line x1="292.20" y1="519.28" x2="294.40" y2="519.28" stroke="#777" stroke-width="0.7"/>
<text x="289.80" y="519.28" font-size="8" text-anchor="middle" fill="#3a3a3a" stroke="#3a3a3a" stroke-width="0.18" transform="rotate(-90 289.80 519.28)">5</text>
<line x1="292.20" y1="505.30" x2="294.40" y2="505.30" stroke="#777" stroke-width="0.7"/>
<text x="289.80" y="505.30" font-size="8" text-anchor="middle" fill="#3a3a3a" stroke="#3a3a3a" stroke-width="0.18" transform="rotate(-90 289.80 505.30)">6</text>
<line x1="292.20" y1="491.32" x2="294.40" y2="491.32" stroke="#777" stroke-width="0.7"/>
<text x="289.80" y="491.32" font-size="8" text-anchor="middle" fill="#3a3a3a" stroke="#3a3a3a" stroke-width="0.18" transform="rotate(-90 289.80 491.32)">7</text>
<line x1="298.40" y1="586.10" x2="389.30" y2="586.10" stroke="#bdbdbd" stroke-width="0.6"/>
<line x1="298.40" y1="586.10" x2="298.40" y2="588.30" stroke="#777" stroke-width="0.7"/>
<line x1="305.97" y1="586.10" x2="305.97" y2="588.30" stroke="#777" stroke-width="0.7"/>
<line x1="313.55" y1="586.10" x2="313.55" y2="588.30" stroke="#777" stroke-width="0.7"/>
<line x1="321.12" y1="586.10" x2="321.12" y2="588.30" stroke="#777" stroke-width="0.7"/>
<line x1="328.70" y1="586.10" x2="328.70" y2="588.30" stroke="#777" stroke-width="0.7"/>
<line x1="336.27" y1="586.10" x2="336.27" y2="588.30" stroke="#777" stroke-width="0.7"/>
<line x1="343.85" y1="586.10" x2="343.85" y2="588.30" stroke="#777" stroke-width="0.7"/>
<line x1="351.42" y1="586.10" x2="351.42" y2="588.30" stroke="#777" stroke-width="0.7"/>
<line x1="359.00" y1="586.10" x2="359.00" y2="588.30" stroke="#777" stroke-width="0.7"/>
<line x1="366.57" y1="586.10" x2="366.57" y2="588.30" stroke="#777" stroke-width="0.7"/>
<line x1="374.15" y1="586.10" x2="374.15" y2="588.30" stroke="#777" stroke-width="0.7"/>
<line x1="381.72" y1="586.10" x2="381.72" y2="588.30" stroke="#777" stroke-width="0.7"/>
<line x1="389.30" y1="586.10" x2="389.30" y2="588.30" stroke="#777" stroke-width="0.7"/>
<text x="280.10" y="533.30" font-size="8" text-anchor="middle" fill="#3a3a3a" stroke="#3a3a3a" stroke-width="0.18" transform="rotate(-90 280.10 533.30)">Fold change from baseline</text>
<polyline points="298.40,575.20 305.97,576.18 313.55,577.02 321.12,576.60 328.70,571.01 336.27,575.20 343.85,570.59 351.42,579.67 359.00,579.67 366.57,574.50 374.15,568.49 381.72,572.40 389.30,565.41" fill="none" stroke="#8fd3dc" stroke-width="0.9" stroke-linejoin="miter"/>
<polyline points="298.40,575.20 305.97,576.18 313.55,575.20 321.12,582.19 328.70,582.19 336.27,582.19 343.85,533.26 351.42,547.24 359.00,529.07 366.57,541.65 374.15,540.25 381.72,558.84 389.30,563.46" fill="none" stroke="#6a6a6a" stroke-width="0.9" stroke-linejoin="miter"/>
<polyline points="298.40,575.20 305.97,576.18 313.55,575.20 321.12,573.10 328.70,510.89 336.27,551.43 343.85,570.59 351.42,576.18 359.00,576.18 366.57,573.10 374.15,566.81 381.72,491.32 389.30,558.84" fill="none" stroke="#2e9a8a" stroke-width="1.4" stroke-linejoin="miter"/>
<text x="301.40" y="590.50" font-size="8.3" text-anchor="end" fill="#3a3a3a" stroke="#3a3a3a" stroke-width="0.18" transform="rotate(-90 301.40 590.50)">C1 D1&#8211;Pre</text>
<text x="308.97" y="590.50" font-size="8.3" text-anchor="end" fill="#3a3a3a" stroke="#3a3a3a" stroke-width="0.18" transform="rotate(-90 308.97 590.50)">C1 D1&#8211;2hr</text>
<text x="316.55" y="590.50" font-size="8.3" text-anchor="end" fill="#3a3a3a" stroke="#3a3a3a" stroke-width="0.18" transform="rotate(-90 316.55 590.50)">C1 D1&#8211;6hr</text>
<text x="324.12" y="590.50" font-size="8.3" text-anchor="end" fill="#3a3a3a" stroke="#3a3a3a" stroke-width="0.18" transform="rotate(-90 324.12 590.50)">C1 D2</text>
<text x="331.70" y="590.50" font-size="8.3" text-anchor="end" fill="#3a3a3a" stroke="#3a3a3a" stroke-width="0.18" transform="rotate(-90 331.70 590.50)">C1 D3</text>
<text x="339.27" y="590.50" font-size="8.3" text-anchor="end" fill="#3a3a3a" stroke="#3a3a3a" stroke-width="0.18" transform="rotate(-90 339.27 590.50)">C1 D8</text>
<text x="346.85" y="590.50" font-size="8.3" text-anchor="end" fill="#3a3a3a" stroke="#3a3a3a" stroke-width="0.18" transform="rotate(-90 346.85 590.50)">C2 D1&#8211;Pre</text>
<text x="354.42" y="590.50" font-size="8.3" text-anchor="end" fill="#3a3a3a" stroke="#3a3a3a" stroke-width="0.18" transform="rotate(-90 354.42 590.50)">C2 D1&#8211;2hr</text>
<text x="362.00" y="590.50" font-size="8.3" text-anchor="end" fill="#3a3a3a" stroke="#3a3a3a" stroke-width="0.18" transform="rotate(-90 362.00 590.50)">C2 D1&#8211;6hr</text>
<text x="369.57" y="590.50" font-size="8.3" text-anchor="end" fill="#3a3a3a" stroke="#3a3a3a" stroke-width="0.18" transform="rotate(-90 369.57 590.50)">C2 D2</text>
<text x="377.15" y="590.50" font-size="8.3" text-anchor="end" fill="#3a3a3a" stroke="#3a3a3a" stroke-width="0.18" transform="rotate(-90 377.15 590.50)">C2 D3</text>
<text x="384.72" y="590.50" font-size="8.3" text-anchor="end" fill="#3a3a3a" stroke="#3a3a3a" stroke-width="0.18" transform="rotate(-90 384.72 590.50)">C2 D8</text>
<text x="392.30" y="590.50" font-size="8.3" text-anchor="end" fill="#3a3a3a" stroke="#3a3a3a" stroke-width="0.18" transform="rotate(-90 392.30 590.50)">C3 D1&#8211;Pre</text>
<line x1="288.6" y1="472.70" x2="295.0" y2="472.70" stroke="#cdeef0" stroke-width="0.8"/>
<text x="297.6" y="474.40" font-size="5.5" fill="#3a3a3a">CXCL11</text>
<line x1="288.6" y1="477.80" x2="295.0" y2="477.80" stroke="#d0d0d0" stroke-width="0.8"/>
<text x="297.6" y="479.50" font-size="5.5" fill="#3a3a3a">CXCL10</text>
<line x1="288.6" y1="483.60" x2="295.0" y2="483.60" stroke="#9fd6d0" stroke-width="0.8"/>
<text x="297.6" y="485.30" font-size="5.5" fill="#3a3a3a">IFN&#947;</text>
<line x1="421.25" y1="487.98" x2="421.25" y2="586.50" stroke="#bfb7ba" stroke-width="0.9" stroke-dasharray="1.9 2.5"/>
<line x1="466.88" y1="487.98" x2="466.88" y2="586.50" stroke="#bfb7ba" stroke-width="0.9" stroke-dasharray="1.9 2.5"/>
<line x1="512.50" y1="487.98" x2="512.50" y2="586.50" stroke="#bfb7ba" stroke-width="0.9" stroke-dasharray="1.9 2.5"/>
<line x1="416.60" y1="582.50" x2="416.60" y2="497.30" stroke="#bdbdbd" stroke-width="0.6"/>
<line x1="414.40" y1="582.50" x2="416.60" y2="582.50" stroke="#777" stroke-width="0.7"/>
<text x="411.60" y="582.50" font-size="8" text-anchor="middle" fill="#3a3a3a" stroke="#3a3a3a" stroke-width="0.18" transform="rotate(-90 411.60 582.50)">0</text>
<line x1="414.40" y1="568.30" x2="416.60" y2="568.30" stroke="#777" stroke-width="0.7"/>
<text x="411.60" y="568.30" font-size="8" text-anchor="middle" fill="#3a3a3a" stroke="#3a3a3a" stroke-width="0.18" transform="rotate(-90 411.60 568.30)">2</text>
<line x1="414.40" y1="554.10" x2="416.60" y2="554.10" stroke="#777" stroke-width="0.7"/>
<text x="411.60" y="554.10" font-size="8" text-anchor="middle" fill="#3a3a3a" stroke="#3a3a3a" stroke-width="0.18" transform="rotate(-90 411.60 554.10)">4</text>
<line x1="414.40" y1="539.90" x2="416.60" y2="539.90" stroke="#777" stroke-width="0.7"/>
<text x="411.60" y="539.90" font-size="8" text-anchor="middle" fill="#3a3a3a" stroke="#3a3a3a" stroke-width="0.18" transform="rotate(-90 411.60 539.90)">6</text>
<line x1="414.40" y1="525.70" x2="416.60" y2="525.70" stroke="#777" stroke-width="0.7"/>
<text x="411.60" y="525.70" font-size="8" text-anchor="middle" fill="#3a3a3a" stroke="#3a3a3a" stroke-width="0.18" transform="rotate(-90 411.60 525.70)">8</text>
<line x1="414.40" y1="511.50" x2="416.60" y2="511.50" stroke="#777" stroke-width="0.7"/>
<text x="411.60" y="511.50" font-size="8" text-anchor="middle" fill="#3a3a3a" stroke="#3a3a3a" stroke-width="0.18" transform="rotate(-90 411.60 511.50)">10</text>
<line x1="414.40" y1="497.30" x2="416.60" y2="497.30" stroke="#777" stroke-width="0.7"/>
<text x="411.60" y="497.30" font-size="8" text-anchor="middle" fill="#3a3a3a" stroke="#3a3a3a" stroke-width="0.18" transform="rotate(-90 411.60 497.30)">12</text>
<line x1="421.25" y1="587.00" x2="512.50" y2="587.00" stroke="#bdbdbd" stroke-width="0.6"/>
<line x1="421.25" y1="587.00" x2="421.25" y2="589.20" stroke="#777" stroke-width="0.7"/>
<line x1="430.38" y1="587.00" x2="430.38" y2="589.20" stroke="#777" stroke-width="0.7"/>
<line x1="439.50" y1="587.00" x2="439.50" y2="589.20" stroke="#777" stroke-width="0.7"/>
<line x1="448.62" y1="587.00" x2="448.62" y2="589.20" stroke="#777" stroke-width="0.7"/>
<line x1="457.75" y1="587.00" x2="457.75" y2="589.20" stroke="#777" stroke-width="0.7"/>
<line x1="466.88" y1="587.00" x2="466.88" y2="589.20" stroke="#777" stroke-width="0.7"/>
<line x1="476.00" y1="587.00" x2="476.00" y2="589.20" stroke="#777" stroke-width="0.7"/>
<line x1="485.12" y1="587.00" x2="485.12" y2="589.20" stroke="#777" stroke-width="0.7"/>
<line x1="494.25" y1="587.00" x2="494.25" y2="589.20" stroke="#777" stroke-width="0.7"/>
<line x1="503.38" y1="587.00" x2="503.38" y2="589.20" stroke="#777" stroke-width="0.7"/>
<line x1="512.50" y1="587.00" x2="512.50" y2="589.20" stroke="#777" stroke-width="0.7"/>
<text x="402.40" y="540.20" font-size="8" text-anchor="middle" fill="#3a3a3a" stroke="#3a3a3a" stroke-width="0.18" transform="rotate(-90 402.40 540.20)">Fold change from baseline</text>
<polyline points="421.25,575.40 430.38,582.50 439.50,582.50 448.62,575.40 457.75,568.30 466.88,582.50 476.00,582.50 485.12,575.40 494.25,539.90 503.38,517.89 512.50,491.62" fill="none" stroke="#6a6a6a" stroke-width="0.9" stroke-linejoin="miter"/>
<polyline points="421.25,575.40 430.38,576.11 439.50,576.11 448.62,578.24 457.75,578.95 466.88,562.62 476.00,566.17 485.12,566.88 494.25,569.72 503.38,566.17 512.50,566.88" fill="none" stroke="#8fd3dc" stroke-width="0.9" stroke-linejoin="miter"/>
<polyline points="421.25,575.40 430.38,578.95 439.50,578.95 448.62,571.85 457.75,564.75 466.88,568.30 476.00,578.95 485.12,578.95 494.25,575.40 503.38,547.71 512.50,561.20" fill="none" stroke="#2e9a8a" stroke-width="1.4" stroke-linejoin="miter"/>
<text x="424.25" y="590.50" font-size="8.3" text-anchor="end" fill="#3a3a3a" stroke="#3a3a3a" stroke-width="0.18" transform="rotate(-90 424.25 590.50)">C1 D1&#8211;Pre</text>
<text x="433.38" y="590.50" font-size="8.3" text-anchor="end" fill="#3a3a3a" stroke="#3a3a3a" stroke-width="0.18" transform="rotate(-90 433.38 590.50)">C1 D2</text>
<text x="442.50" y="590.50" font-size="8.3" text-anchor="end" fill="#3a3a3a" stroke="#3a3a3a" stroke-width="0.18" transform="rotate(-90 442.50 590.50)">C1 D3</text>
<text x="451.62" y="590.50" font-size="8.3" text-anchor="end" fill="#3a3a3a" stroke="#3a3a3a" stroke-width="0.18" transform="rotate(-90 451.62 590.50)">C1 D8</text>
<text x="460.75" y="590.50" font-size="8.3" text-anchor="end" fill="#3a3a3a" stroke="#3a3a3a" stroke-width="0.18" transform="rotate(-90 460.75 590.50)">C1 D15</text>
<text x="469.88" y="590.50" font-size="8.3" text-anchor="end" fill="#3a3a3a" stroke="#3a3a3a" stroke-width="0.18" transform="rotate(-90 469.88 590.50)">C2 D1&#8211;Pre</text>
<text x="479.00" y="590.50" font-size="8.3" text-anchor="end" fill="#3a3a3a" stroke="#3a3a3a" stroke-width="0.18" transform="rotate(-90 479.00 590.50)">C2 D2</text>
<text x="488.12" y="590.50" font-size="8.3" text-anchor="end" fill="#3a3a3a" stroke="#3a3a3a" stroke-width="0.18" transform="rotate(-90 488.12 590.50)">C2 D3</text>
<text x="497.25" y="590.50" font-size="8.3" text-anchor="end" fill="#3a3a3a" stroke="#3a3a3a" stroke-width="0.18" transform="rotate(-90 497.25 590.50)">C2 D8</text>
<text x="506.38" y="590.50" font-size="8.3" text-anchor="end" fill="#3a3a3a" stroke="#3a3a3a" stroke-width="0.18" transform="rotate(-90 506.38 590.50)">C2 D15</text>
<text x="515.50" y="590.50" font-size="8.3" text-anchor="end" fill="#3a3a3a" stroke="#3a3a3a" stroke-width="0.18" transform="rotate(-90 515.50 590.50)">C3 D1&#8211;Pre</text>
<line x1="412.0" y1="473.30" x2="417.0" y2="473.30" stroke="#cfcfcf" stroke-width="0.8"/>
<text x="419.5" y="475.00" font-size="5.3" fill="#3a3a3a">4-1BB<tspan dy="-1.5" font-size="3.8">+</tspan><tspan dy="1.5"> CD45RA</tspan><tspan dy="-1.5" font-size="3.8">&#8211;</tspan><tspan dy="1.5"> CCR7</tspan><tspan dy="-1.5" font-size="3.8">&#8211;</tspan><tspan dy="1.5"> CD8</tspan><tspan dy="-1.5" font-size="3.8">+</tspan><tspan dy="1.5"> T cells</tspan></text>
<line x1="412.0" y1="478.30" x2="417.0" y2="478.30" stroke="#bfe6ec" stroke-width="0.8"/>
<text x="419.5" y="480.00" font-size="5.3" fill="#3a3a3a">PD-1<tspan dy="-1.5" font-size="3.8">+</tspan><tspan dy="1.5"> CD45RA</tspan><tspan dy="-1.5" font-size="3.8">&#8211;</tspan><tspan dy="1.5"> CCR7</tspan><tspan dy="-1.5" font-size="3.8">&#8211;</tspan><tspan dy="1.5"> CD8</tspan><tspan dy="-1.5" font-size="3.8">+</tspan><tspan dy="1.5"> T cells</tspan></text>
<line x1="412.0" y1="483.60" x2="417.0" y2="483.60" stroke="#a6d6cc" stroke-width="0.8"/>
<text x="419.5" y="485.30" font-size="5.3" fill="#3a3a3a">Ki-67<tspan dy="-1.5" font-size="3.8">+</tspan><tspan dy="1.5"> CD45RA</tspan><tspan dy="-1.5" font-size="3.8">&#8211;</tspan><tspan dy="1.5"> CCR7</tspan><tspan dy="-1.5" font-size="3.8">&#8211;</tspan><tspan dy="1.5"> CD8</tspan><tspan dy="-1.5" font-size="3.8">+</tspan><tspan dy="1.5"> T cells</tspan></text>
</svg>
</body></html>
